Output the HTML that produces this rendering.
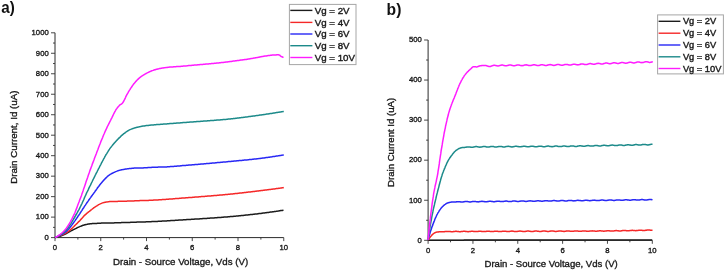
<!DOCTYPE html>
<html><head><meta charset="utf-8"><title>Id-Vds curves</title>
<style>html,body{margin:0;padding:0;background:#fff}svg{display:block}</style></head>
<body>
<svg width="725" height="271" viewBox="0 0 725 271" font-family="'Liberation Sans', sans-serif" fill="#1a1a1a">
<rect width="725" height="271" fill="#fff"/>
<path d="M55,32.8 V237.6 H283.75" fill="none" stroke="#2a2a2a" stroke-width="1"/>
<path d="M55.00,237.6 v3.5" stroke="#333" stroke-width="0.9"/>
<text x="55.00" y="249.90" text-anchor="middle" font-size="7.7" stroke="#1a1a1a" stroke-width="0.35">0</text>
<path d="M77.88,237.6 v2" stroke="#333" stroke-width="0.9"/>
<path d="M100.75,237.6 v3.5" stroke="#333" stroke-width="0.9"/>
<text x="100.75" y="249.90" text-anchor="middle" font-size="7.7" stroke="#1a1a1a" stroke-width="0.35">2</text>
<path d="M123.62,237.6 v2" stroke="#333" stroke-width="0.9"/>
<path d="M146.50,237.6 v3.5" stroke="#333" stroke-width="0.9"/>
<text x="146.50" y="249.90" text-anchor="middle" font-size="7.7" stroke="#1a1a1a" stroke-width="0.35">4</text>
<path d="M169.38,237.6 v2" stroke="#333" stroke-width="0.9"/>
<path d="M192.25,237.6 v3.5" stroke="#333" stroke-width="0.9"/>
<text x="192.25" y="249.90" text-anchor="middle" font-size="7.7" stroke="#1a1a1a" stroke-width="0.35">6</text>
<path d="M215.12,237.6 v2" stroke="#333" stroke-width="0.9"/>
<path d="M238.00,237.6 v3.5" stroke="#333" stroke-width="0.9"/>
<text x="238.00" y="249.90" text-anchor="middle" font-size="7.7" stroke="#1a1a1a" stroke-width="0.35">8</text>
<path d="M260.88,237.6 v2" stroke="#333" stroke-width="0.9"/>
<path d="M283.75,237.6 v3.5" stroke="#333" stroke-width="0.9"/>
<text x="283.75" y="249.90" text-anchor="middle" font-size="7.7" stroke="#1a1a1a" stroke-width="0.35">10</text>
<path d="M55,237.60 h-4" stroke="#333" stroke-width="0.9"/>
<text x="48.7" y="239.90" text-anchor="end" font-size="7.7" stroke="#1a1a1a" stroke-width="0.35">0</text>
<path d="M55,227.36 h-2" stroke="#333" stroke-width="0.9"/>
<path d="M55,217.12 h-4" stroke="#333" stroke-width="0.9"/>
<text x="48.7" y="219.42" text-anchor="end" font-size="7.7" stroke="#1a1a1a" stroke-width="0.35">100</text>
<path d="M55,206.88 h-2" stroke="#333" stroke-width="0.9"/>
<path d="M55,196.64 h-4" stroke="#333" stroke-width="0.9"/>
<text x="48.7" y="198.94" text-anchor="end" font-size="7.7" stroke="#1a1a1a" stroke-width="0.35">200</text>
<path d="M55,186.40 h-2" stroke="#333" stroke-width="0.9"/>
<path d="M55,176.16 h-4" stroke="#333" stroke-width="0.9"/>
<text x="48.7" y="178.46" text-anchor="end" font-size="7.7" stroke="#1a1a1a" stroke-width="0.35">300</text>
<path d="M55,165.92 h-2" stroke="#333" stroke-width="0.9"/>
<path d="M55,155.68 h-4" stroke="#333" stroke-width="0.9"/>
<text x="48.7" y="157.98" text-anchor="end" font-size="7.7" stroke="#1a1a1a" stroke-width="0.35">400</text>
<path d="M55,145.44 h-2" stroke="#333" stroke-width="0.9"/>
<path d="M55,135.20 h-4" stroke="#333" stroke-width="0.9"/>
<text x="48.7" y="137.50" text-anchor="end" font-size="7.7" stroke="#1a1a1a" stroke-width="0.35">500</text>
<path d="M55,124.96 h-2" stroke="#333" stroke-width="0.9"/>
<path d="M55,114.72 h-4" stroke="#333" stroke-width="0.9"/>
<text x="48.7" y="117.02" text-anchor="end" font-size="7.7" stroke="#1a1a1a" stroke-width="0.35">600</text>
<path d="M55,104.48 h-2" stroke="#333" stroke-width="0.9"/>
<path d="M55,94.24 h-4" stroke="#333" stroke-width="0.9"/>
<text x="48.7" y="96.54" text-anchor="end" font-size="7.7" stroke="#1a1a1a" stroke-width="0.35">700</text>
<path d="M55,84.00 h-2" stroke="#333" stroke-width="0.9"/>
<path d="M55,73.76 h-4" stroke="#333" stroke-width="0.9"/>
<text x="48.7" y="76.06" text-anchor="end" font-size="7.7" stroke="#1a1a1a" stroke-width="0.35">800</text>
<path d="M55,63.52 h-2" stroke="#333" stroke-width="0.9"/>
<path d="M55,53.28 h-4" stroke="#333" stroke-width="0.9"/>
<text x="48.7" y="55.58" text-anchor="end" font-size="7.7" stroke="#1a1a1a" stroke-width="0.35">900</text>
<path d="M55,43.04 h-2" stroke="#333" stroke-width="0.9"/>
<path d="M55,32.80 h-4" stroke="#333" stroke-width="0.9"/>
<text x="48.7" y="35.10" text-anchor="end" font-size="7.7" stroke="#1a1a1a" stroke-width="0.35">1000</text>
<path d="M428.1,40.0 V240.3 H652.3" fill="none" stroke="#2a2a2a" stroke-width="1"/>
<path d="M428.10,240.3 v3.5" stroke="#333" stroke-width="0.9"/>
<text x="428.10" y="252.60" text-anchor="middle" font-size="7.7" stroke="#1a1a1a" stroke-width="0.35">0</text>
<path d="M450.52,240.3 v2" stroke="#333" stroke-width="0.9"/>
<path d="M472.94,240.3 v3.5" stroke="#333" stroke-width="0.9"/>
<text x="472.94" y="252.60" text-anchor="middle" font-size="7.7" stroke="#1a1a1a" stroke-width="0.35">2</text>
<path d="M495.36,240.3 v2" stroke="#333" stroke-width="0.9"/>
<path d="M517.78,240.3 v3.5" stroke="#333" stroke-width="0.9"/>
<text x="517.78" y="252.60" text-anchor="middle" font-size="7.7" stroke="#1a1a1a" stroke-width="0.35">4</text>
<path d="M540.20,240.3 v2" stroke="#333" stroke-width="0.9"/>
<path d="M562.62,240.3 v3.5" stroke="#333" stroke-width="0.9"/>
<text x="562.62" y="252.60" text-anchor="middle" font-size="7.7" stroke="#1a1a1a" stroke-width="0.35">6</text>
<path d="M585.04,240.3 v2" stroke="#333" stroke-width="0.9"/>
<path d="M607.46,240.3 v3.5" stroke="#333" stroke-width="0.9"/>
<text x="607.46" y="252.60" text-anchor="middle" font-size="7.7" stroke="#1a1a1a" stroke-width="0.35">8</text>
<path d="M629.88,240.3 v2" stroke="#333" stroke-width="0.9"/>
<path d="M652.30,240.3 v3.5" stroke="#333" stroke-width="0.9"/>
<text x="652.30" y="252.60" text-anchor="middle" font-size="7.7" stroke="#1a1a1a" stroke-width="0.35">10</text>
<path d="M428.1,240.30 h-4" stroke="#333" stroke-width="0.9"/>
<text x="421.8" y="242.60" text-anchor="end" font-size="7.7" stroke="#1a1a1a" stroke-width="0.35">0</text>
<path d="M428.1,220.27 h-2" stroke="#333" stroke-width="0.9"/>
<path d="M428.1,200.24 h-4" stroke="#333" stroke-width="0.9"/>
<text x="421.8" y="202.54" text-anchor="end" font-size="7.7" stroke="#1a1a1a" stroke-width="0.35">100</text>
<path d="M428.1,180.21 h-2" stroke="#333" stroke-width="0.9"/>
<path d="M428.1,160.18 h-4" stroke="#333" stroke-width="0.9"/>
<text x="421.8" y="162.48" text-anchor="end" font-size="7.7" stroke="#1a1a1a" stroke-width="0.35">200</text>
<path d="M428.1,140.15 h-2" stroke="#333" stroke-width="0.9"/>
<path d="M428.1,120.12 h-4" stroke="#333" stroke-width="0.9"/>
<text x="421.8" y="122.42" text-anchor="end" font-size="7.7" stroke="#1a1a1a" stroke-width="0.35">300</text>
<path d="M428.1,100.09 h-2" stroke="#333" stroke-width="0.9"/>
<path d="M428.1,80.06 h-4" stroke="#333" stroke-width="0.9"/>
<text x="421.8" y="82.36" text-anchor="end" font-size="7.7" stroke="#1a1a1a" stroke-width="0.35">400</text>
<path d="M428.1,60.03 h-2" stroke="#333" stroke-width="0.9"/>
<path d="M428.1,40.00 h-4" stroke="#333" stroke-width="0.9"/>
<text x="421.8" y="42.30" text-anchor="end" font-size="7.7" stroke="#1a1a1a" stroke-width="0.35">500</text>
<path d="M55.0,237.5 L55.6,237.4 L56.1,237.3 L56.7,237.1 L57.3,237.0 L57.9,236.8 L58.4,236.7 L59.0,236.5 L59.6,236.3 L60.2,236.2 L60.7,236.0 L61.3,235.8 L61.9,235.5 L62.4,235.3 L63.0,235.1 L63.6,234.8 L64.2,234.6 L64.7,234.3 L65.3,234.1 L65.9,233.8 L66.5,233.4 L67.0,233.1 L67.6,232.8 L68.2,232.4 L68.7,232.1 L69.3,231.8 L69.9,231.5 L70.5,231.2 L71.0,230.9 L71.6,230.6 L72.2,230.3 L72.8,230.0 L73.3,229.7 L73.9,229.4 L74.5,229.2 L75.0,228.9 L75.6,228.6 L76.2,228.3 L76.8,228.0 L77.3,227.7 L77.9,227.4 L78.5,227.2 L79.1,226.9 L79.6,226.7 L80.2,226.4 L80.8,226.2 L81.3,226.0 L81.9,225.8 L82.5,225.5 L83.1,225.3 L83.6,225.2 L84.2,225.0 L84.8,224.8 L85.4,224.7 L85.9,224.5 L86.5,224.4 L87.1,224.3 L87.6,224.2 L88.2,224.0 L88.8,223.9 L89.4,223.9 L89.9,223.8 L90.5,223.7 L91.1,223.7 L91.7,223.7 L92.2,223.6 L92.8,223.6 L93.4,223.6 L93.9,223.5 L94.5,223.5 L95.1,223.5 L95.7,223.4 L96.2,223.4 L96.8,223.4 L97.4,223.3 L98.0,223.3 L98.5,223.3 L99.1,223.2 L99.7,223.2 L100.2,223.2 L100.8,223.2 L101.4,223.1 L102.0,223.1 L102.5,223.1 L103.1,223.1 L103.7,223.1 L104.3,223.1 L104.8,223.1 L105.4,223.1 L106.0,223.0 L106.5,223.0 L107.1,223.0 L107.7,223.0 L108.3,223.0 L108.8,223.0 L109.4,223.0 L110.0,223.0 L110.6,223.0 L111.1,222.9 L111.7,222.9 L112.3,222.9 L112.8,222.9 L113.4,222.9 L114.0,222.9 L114.6,222.8 L115.1,222.8 L115.7,222.8 L116.3,222.8 L116.8,222.8 L117.4,222.8 L118.0,222.8 L118.6,222.7 L119.1,222.7 L119.7,222.7 L120.3,222.7 L120.9,222.7 L121.4,222.6 L122.0,222.6 L122.6,222.6 L123.1,222.6 L123.7,222.6 L124.3,222.6 L124.9,222.5 L125.4,222.5 L126.0,222.5 L126.6,222.5 L127.2,222.5 L127.7,222.4 L128.3,222.4 L128.9,222.4 L129.4,222.4 L130.0,222.4 L130.6,222.3 L131.2,222.3 L131.7,222.3 L132.3,222.3 L132.9,222.3 L133.5,222.3 L134.0,222.2 L134.6,222.2 L135.2,222.2 L135.7,222.2 L136.3,222.2 L136.9,222.1 L137.5,222.1 L138.0,222.1 L138.6,222.1 L139.2,222.1 L139.8,222.0 L140.3,222.0 L140.9,222.0 L141.5,222.0 L142.0,222.0 L142.6,221.9 L143.2,221.9 L143.8,221.9 L144.3,221.9 L144.9,221.9 L145.5,221.9 L146.1,221.8 L146.6,221.8 L147.2,221.8 L147.8,221.8 L148.3,221.8 L148.9,221.7 L149.5,221.7 L150.1,221.7 L150.6,221.7 L151.2,221.7 L151.8,221.6 L152.4,221.6 L152.9,221.6 L153.5,221.6 L154.1,221.5 L154.6,221.5 L155.2,221.5 L155.8,221.4 L156.4,221.4 L156.9,221.4 L157.5,221.4 L158.1,221.3 L158.7,221.3 L159.2,221.3 L159.8,221.2 L160.4,221.2 L160.9,221.2 L161.5,221.2 L162.1,221.1 L162.7,221.1 L163.2,221.1 L163.8,221.0 L164.4,221.0 L165.0,221.0 L165.5,220.9 L166.1,220.9 L166.7,220.9 L167.2,220.8 L167.8,220.8 L168.4,220.8 L169.0,220.7 L169.5,220.7 L170.1,220.7 L170.7,220.6 L171.3,220.6 L171.8,220.6 L172.4,220.5 L173.0,220.5 L173.5,220.5 L174.1,220.4 L174.7,220.4 L175.3,220.3 L175.8,220.3 L176.4,220.3 L177.0,220.2 L177.6,220.2 L178.1,220.2 L178.7,220.1 L179.3,220.1 L179.8,220.1 L180.4,220.0 L181.0,220.0 L181.6,219.9 L182.1,219.9 L182.7,219.9 L183.3,219.8 L183.9,219.8 L184.4,219.8 L185.0,219.7 L185.6,219.7 L186.1,219.7 L186.7,219.6 L187.3,219.6 L187.9,219.6 L188.4,219.5 L189.0,219.5 L189.6,219.5 L190.2,219.4 L190.7,219.4 L191.3,219.3 L191.9,219.3 L192.4,219.3 L193.0,219.2 L193.6,219.2 L194.2,219.2 L194.7,219.1 L195.3,219.1 L195.9,219.1 L196.5,219.0 L197.0,219.0 L197.6,219.0 L198.2,218.9 L198.7,218.9 L199.3,218.9 L199.9,218.8 L200.5,218.8 L201.0,218.7 L201.6,218.7 L202.2,218.7 L202.8,218.6 L203.3,218.6 L203.9,218.6 L204.5,218.5 L205.0,218.5 L205.6,218.5 L206.2,218.4 L206.8,218.4 L207.3,218.3 L207.9,218.3 L208.5,218.3 L209.1,218.2 L209.6,218.2 L210.2,218.1 L210.8,218.1 L211.3,218.1 L211.9,218.0 L212.5,218.0 L213.1,218.0 L213.6,217.9 L214.2,217.9 L214.8,217.8 L215.4,217.8 L215.9,217.7 L216.5,217.7 L217.1,217.7 L217.6,217.6 L218.2,217.6 L218.8,217.5 L219.4,217.5 L219.9,217.5 L220.5,217.4 L221.1,217.4 L221.7,217.3 L222.2,217.3 L222.8,217.2 L223.4,217.2 L223.9,217.1 L224.5,217.1 L225.1,217.1 L225.7,217.0 L226.2,217.0 L226.8,216.9 L227.4,216.9 L227.9,216.8 L228.5,216.8 L229.1,216.7 L229.7,216.7 L230.2,216.6 L230.8,216.6 L231.4,216.5 L232.0,216.5 L232.5,216.4 L233.1,216.4 L233.7,216.3 L234.2,216.3 L234.8,216.2 L235.4,216.2 L236.0,216.1 L236.5,216.0 L237.1,216.0 L237.7,215.9 L238.3,215.9 L238.8,215.8 L239.4,215.8 L240.0,215.7 L240.5,215.7 L241.1,215.6 L241.7,215.5 L242.3,215.5 L242.8,215.4 L243.4,215.4 L244.0,215.3 L244.6,215.3 L245.1,215.2 L245.7,215.1 L246.3,215.1 L246.8,215.0 L247.4,214.9 L248.0,214.9 L248.6,214.8 L249.1,214.8 L249.7,214.7 L250.3,214.6 L250.9,214.6 L251.4,214.5 L252.0,214.4 L252.6,214.4 L253.1,214.3 L253.7,214.3 L254.3,214.2 L254.9,214.1 L255.4,214.1 L256.0,214.0 L256.6,213.9 L257.2,213.9 L257.7,213.8 L258.3,213.7 L258.9,213.6 L259.4,213.6 L260.0,213.5 L260.6,213.4 L261.2,213.4 L261.7,213.3 L262.3,213.2 L262.9,213.1 L263.5,213.1 L264.0,213.0 L264.6,212.9 L265.2,212.8 L265.7,212.8 L266.3,212.7 L266.9,212.6 L267.5,212.5 L268.0,212.5 L268.6,212.4 L269.2,212.3 L269.8,212.2 L270.3,212.1 L270.9,212.1 L271.5,212.0 L272.0,211.9 L272.6,211.8 L273.2,211.7 L273.8,211.7 L274.3,211.6 L274.9,211.5 L275.5,211.4 L276.1,211.3 L276.6,211.2 L277.2,211.2 L277.8,211.1 L278.3,211.0 L278.9,210.9 L279.5,210.8 L280.1,210.7 L280.6,210.6 L281.2,210.6 L281.8,210.5 L282.4,210.4 L282.9,210.3 L283.5,210.2" fill="none" stroke="#1c1c1c" stroke-width="1.5" stroke-linejoin="round"/>
<path d="M55.0,237.5 L55.6,237.3 L56.1,237.1 L56.7,236.9 L57.3,236.7 L57.9,236.5 L58.4,236.3 L59.0,236.1 L59.6,235.9 L60.2,235.6 L60.7,235.4 L61.3,235.2 L61.9,234.9 L62.5,234.7 L63.0,234.5 L63.6,234.2 L64.2,233.9 L64.7,233.6 L65.3,233.3 L65.9,233.0 L66.5,232.6 L67.0,232.3 L67.6,231.9 L68.2,231.5 L68.8,231.1 L69.3,230.6 L69.9,230.2 L70.5,229.7 L71.1,229.2 L71.6,228.7 L72.2,228.1 L72.8,227.6 L73.3,227.0 L73.9,226.5 L74.5,225.9 L75.1,225.3 L75.6,224.8 L76.2,224.2 L76.8,223.6 L77.4,223.1 L77.9,222.5 L78.5,221.9 L79.1,221.3 L79.7,220.8 L80.2,220.2 L80.8,219.5 L81.4,218.9 L82.0,218.3 L82.5,217.6 L83.1,217.0 L83.7,216.3 L84.2,215.7 L84.8,215.2 L85.4,214.6 L86.0,214.1 L86.5,213.6 L87.1,213.1 L87.7,212.7 L88.3,212.2 L88.8,211.7 L89.4,211.3 L90.0,210.8 L90.6,210.4 L91.1,209.9 L91.7,209.5 L92.3,209.0 L92.8,208.6 L93.4,208.2 L94.0,207.7 L94.6,207.3 L95.1,206.9 L95.7,206.5 L96.3,206.2 L96.9,205.8 L97.4,205.4 L98.0,205.1 L98.6,204.7 L99.2,204.4 L99.7,204.1 L100.3,203.9 L100.9,203.6 L101.4,203.4 L102.0,203.1 L102.6,202.9 L103.2,202.7 L103.7,202.6 L104.3,202.4 L104.9,202.3 L105.5,202.2 L106.0,202.1 L106.6,202.0 L107.2,201.9 L107.8,201.8 L108.3,201.7 L108.9,201.7 L109.5,201.6 L110.0,201.6 L110.6,201.6 L111.2,201.5 L111.8,201.5 L112.3,201.5 L112.9,201.5 L113.5,201.5 L114.1,201.5 L114.6,201.4 L115.2,201.4 L115.8,201.4 L116.4,201.4 L116.9,201.4 L117.5,201.4 L118.1,201.3 L118.7,201.3 L119.2,201.3 L119.8,201.3 L120.4,201.3 L120.9,201.3 L121.5,201.3 L122.1,201.3 L122.7,201.3 L123.2,201.2 L123.8,201.2 L124.4,201.2 L125.0,201.2 L125.5,201.2 L126.1,201.2 L126.7,201.2 L127.3,201.1 L127.8,201.1 L128.4,201.1 L129.0,201.1 L129.5,201.1 L130.1,201.0 L130.7,201.0 L131.3,201.0 L131.8,201.0 L132.4,200.9 L133.0,200.9 L133.6,200.9 L134.1,200.9 L134.7,200.8 L135.3,200.8 L135.9,200.8 L136.4,200.8 L137.0,200.8 L137.6,200.7 L138.1,200.7 L138.7,200.7 L139.3,200.7 L139.9,200.6 L140.4,200.6 L141.0,200.6 L141.6,200.6 L142.2,200.6 L142.7,200.5 L143.3,200.5 L143.9,200.5 L144.5,200.5 L145.0,200.5 L145.6,200.5 L146.2,200.4 L146.7,200.4 L147.3,200.4 L147.9,200.4 L148.5,200.4 L149.0,200.3 L149.6,200.3 L150.2,200.3 L150.8,200.3 L151.3,200.2 L151.9,200.2 L152.5,200.2 L153.1,200.2 L153.6,200.1 L154.2,200.1 L154.8,200.1 L155.4,200.0 L155.9,200.0 L156.5,200.0 L157.1,199.9 L157.6,199.9 L158.2,199.9 L158.8,199.8 L159.4,199.8 L159.9,199.8 L160.5,199.7 L161.1,199.7 L161.7,199.7 L162.2,199.6 L162.8,199.6 L163.4,199.5 L164.0,199.5 L164.5,199.5 L165.1,199.4 L165.7,199.4 L166.2,199.3 L166.8,199.3 L167.4,199.3 L168.0,199.2 L168.5,199.2 L169.1,199.1 L169.7,199.1 L170.3,199.0 L170.8,199.0 L171.4,199.0 L172.0,198.9 L172.6,198.9 L173.1,198.8 L173.7,198.8 L174.3,198.7 L174.8,198.7 L175.4,198.6 L176.0,198.6 L176.6,198.6 L177.1,198.5 L177.7,198.5 L178.3,198.4 L178.9,198.4 L179.4,198.3 L180.0,198.3 L180.6,198.2 L181.2,198.2 L181.7,198.1 L182.3,198.1 L182.9,198.1 L183.4,198.0 L184.0,198.0 L184.6,197.9 L185.2,197.9 L185.7,197.8 L186.3,197.8 L186.9,197.7 L187.5,197.7 L188.0,197.7 L188.6,197.6 L189.2,197.6 L189.8,197.5 L190.3,197.5 L190.9,197.4 L191.5,197.4 L192.1,197.4 L192.6,197.3 L193.2,197.3 L193.8,197.2 L194.3,197.2 L194.9,197.1 L195.5,197.1 L196.1,197.0 L196.6,197.0 L197.2,197.0 L197.8,196.9 L198.4,196.9 L198.9,196.8 L199.5,196.8 L200.1,196.7 L200.7,196.7 L201.2,196.6 L201.8,196.6 L202.4,196.6 L202.9,196.5 L203.5,196.5 L204.1,196.4 L204.7,196.4 L205.2,196.3 L205.8,196.3 L206.4,196.2 L207.0,196.2 L207.5,196.1 L208.1,196.1 L208.7,196.1 L209.3,196.0 L209.8,196.0 L210.4,195.9 L211.0,195.9 L211.5,195.8 L212.1,195.8 L212.7,195.7 L213.3,195.7 L213.8,195.6 L214.4,195.6 L215.0,195.5 L215.6,195.5 L216.1,195.4 L216.7,195.4 L217.3,195.3 L217.9,195.3 L218.4,195.2 L219.0,195.2 L219.6,195.1 L220.1,195.1 L220.7,195.0 L221.3,195.0 L221.9,194.9 L222.4,194.9 L223.0,194.8 L223.6,194.8 L224.2,194.7 L224.7,194.7 L225.3,194.6 L225.9,194.6 L226.5,194.5 L227.0,194.4 L227.6,194.4 L228.2,194.3 L228.8,194.3 L229.3,194.2 L229.9,194.2 L230.5,194.1 L231.0,194.1 L231.6,194.0 L232.2,193.9 L232.8,193.9 L233.3,193.8 L233.9,193.8 L234.5,193.7 L235.1,193.6 L235.6,193.6 L236.2,193.5 L236.8,193.4 L237.4,193.4 L237.9,193.3 L238.5,193.3 L239.1,193.2 L239.6,193.1 L240.2,193.1 L240.8,193.0 L241.4,192.9 L241.9,192.9 L242.5,192.8 L243.1,192.7 L243.7,192.7 L244.2,192.6 L244.8,192.5 L245.4,192.5 L246.0,192.4 L246.5,192.3 L247.1,192.3 L247.7,192.2 L248.2,192.1 L248.8,192.1 L249.4,192.0 L250.0,191.9 L250.5,191.9 L251.1,191.8 L251.7,191.7 L252.3,191.7 L252.8,191.6 L253.4,191.5 L254.0,191.5 L254.6,191.4 L255.1,191.3 L255.7,191.3 L256.3,191.2 L256.8,191.1 L257.4,191.0 L258.0,191.0 L258.6,190.9 L259.1,190.8 L259.7,190.8 L260.3,190.7 L260.9,190.6 L261.4,190.6 L262.0,190.5 L262.6,190.4 L263.2,190.3 L263.7,190.3 L264.3,190.2 L264.9,190.1 L265.5,190.0 L266.0,190.0 L266.6,189.9 L267.2,189.8 L267.7,189.8 L268.3,189.7 L268.9,189.6 L269.5,189.5 L270.0,189.5 L270.6,189.4 L271.2,189.3 L271.8,189.2 L272.3,189.2 L272.9,189.1 L273.5,189.0 L274.1,188.9 L274.6,188.9 L275.2,188.8 L275.8,188.7 L276.3,188.6 L276.9,188.5 L277.5,188.5 L278.1,188.4 L278.6,188.3 L279.2,188.2 L279.8,188.2 L280.4,188.1 L280.9,188.0 L281.5,187.9 L282.1,187.8 L282.7,187.8 L283.2,187.7 L283.8,187.6" fill="none" stroke="#f52828" stroke-width="1.5" stroke-linejoin="round"/>
<path d="M55.0,237.5 L55.6,237.3 L56.1,237.1 L56.7,236.9 L57.3,236.6 L57.9,236.4 L58.4,236.1 L59.0,235.9 L59.6,235.6 L60.2,235.3 L60.7,235.0 L61.3,234.7 L61.9,234.4 L62.5,234.1 L63.0,233.7 L63.6,233.4 L64.2,233.0 L64.7,232.6 L65.3,232.2 L65.9,231.7 L66.5,231.2 L67.0,230.6 L67.6,230.0 L68.2,229.4 L68.8,228.8 L69.3,228.2 L69.9,227.5 L70.5,226.8 L71.1,226.1 L71.6,225.4 L72.2,224.6 L72.8,223.8 L73.3,223.0 L73.9,222.2 L74.5,221.4 L75.1,220.6 L75.6,219.8 L76.2,219.0 L76.8,218.1 L77.4,217.3 L77.9,216.4 L78.5,215.5 L79.1,214.7 L79.7,213.8 L80.2,213.0 L80.8,212.1 L81.4,211.2 L82.0,210.3 L82.5,209.4 L83.1,208.5 L83.7,207.7 L84.2,206.8 L84.8,205.9 L85.4,205.1 L86.0,204.2 L86.5,203.4 L87.1,202.5 L87.7,201.7 L88.3,200.8 L88.8,200.0 L89.4,199.2 L90.0,198.4 L90.6,197.6 L91.1,196.8 L91.7,196.0 L92.3,195.2 L92.8,194.4 L93.4,193.7 L94.0,192.9 L94.6,192.1 L95.1,191.3 L95.7,190.5 L96.3,189.7 L96.9,188.8 L97.4,188.0 L98.0,187.2 L98.6,186.5 L99.2,185.7 L99.7,185.0 L100.3,184.3 L100.9,183.6 L101.4,182.9 L102.0,182.2 L102.6,181.5 L103.2,180.9 L103.7,180.2 L104.3,179.6 L104.9,179.0 L105.5,178.4 L106.0,177.8 L106.6,177.3 L107.2,176.7 L107.8,176.2 L108.3,175.7 L108.9,175.3 L109.5,174.9 L110.0,174.5 L110.6,174.2 L111.2,173.8 L111.8,173.5 L112.3,173.3 L112.9,173.0 L113.5,172.7 L114.1,172.4 L114.6,172.2 L115.2,171.9 L115.8,171.6 L116.4,171.4 L116.9,171.2 L117.5,170.9 L118.1,170.7 L118.7,170.6 L119.2,170.4 L119.8,170.2 L120.4,170.1 L120.9,170.0 L121.5,169.8 L122.1,169.7 L122.7,169.6 L123.2,169.5 L123.8,169.4 L124.4,169.3 L125.0,169.2 L125.5,169.1 L126.1,169.0 L126.7,168.9 L127.3,168.8 L127.8,168.7 L128.4,168.7 L129.0,168.6 L129.5,168.5 L130.1,168.5 L130.7,168.4 L131.3,168.4 L131.8,168.3 L132.4,168.3 L133.0,168.2 L133.6,168.2 L134.1,168.1 L134.7,168.1 L135.3,168.1 L135.9,168.1 L136.4,168.0 L137.0,168.0 L137.6,168.0 L138.1,168.0 L138.7,168.0 L139.3,168.0 L139.9,167.9 L140.4,167.9 L141.0,167.9 L141.6,167.9 L142.2,167.9 L142.7,167.9 L143.3,167.9 L143.9,167.8 L144.5,167.8 L145.0,167.8 L145.6,167.8 L146.2,167.7 L146.7,167.7 L147.3,167.7 L147.9,167.6 L148.5,167.6 L149.0,167.6 L149.6,167.5 L150.2,167.5 L150.8,167.4 L151.3,167.4 L151.9,167.3 L152.5,167.3 L153.1,167.3 L153.6,167.2 L154.2,167.2 L154.8,167.2 L155.4,167.2 L155.9,167.2 L156.5,167.2 L157.1,167.2 L157.6,167.2 L158.2,167.1 L158.8,167.1 L159.4,167.1 L159.9,167.1 L160.5,167.1 L161.1,167.1 L161.7,167.1 L162.2,167.1 L162.8,167.0 L163.4,167.0 L164.0,167.0 L164.5,167.0 L165.1,167.0 L165.7,166.9 L166.2,166.9 L166.8,166.9 L167.4,166.8 L168.0,166.8 L168.5,166.8 L169.1,166.7 L169.7,166.7 L170.3,166.6 L170.8,166.6 L171.4,166.6 L172.0,166.5 L172.6,166.5 L173.1,166.4 L173.7,166.4 L174.3,166.3 L174.8,166.3 L175.4,166.2 L176.0,166.2 L176.6,166.2 L177.1,166.1 L177.7,166.1 L178.3,166.0 L178.9,166.0 L179.4,165.9 L180.0,165.9 L180.6,165.8 L181.2,165.8 L181.7,165.7 L182.3,165.6 L182.9,165.6 L183.4,165.5 L184.0,165.5 L184.6,165.4 L185.2,165.4 L185.7,165.4 L186.3,165.3 L186.9,165.3 L187.5,165.2 L188.0,165.2 L188.6,165.1 L189.2,165.1 L189.8,165.0 L190.3,165.0 L190.9,164.9 L191.5,164.9 L192.1,164.8 L192.6,164.8 L193.2,164.7 L193.8,164.7 L194.3,164.7 L194.9,164.6 L195.5,164.6 L196.1,164.5 L196.6,164.5 L197.2,164.4 L197.8,164.4 L198.4,164.3 L198.9,164.3 L199.5,164.2 L200.1,164.2 L200.7,164.1 L201.2,164.1 L201.8,164.0 L202.4,164.0 L202.9,163.9 L203.5,163.9 L204.1,163.8 L204.7,163.8 L205.2,163.7 L205.8,163.7 L206.4,163.6 L207.0,163.6 L207.5,163.5 L208.1,163.5 L208.7,163.4 L209.3,163.4 L209.8,163.3 L210.4,163.3 L211.0,163.2 L211.5,163.2 L212.1,163.1 L212.7,163.1 L213.3,163.0 L213.8,163.0 L214.4,162.9 L215.0,162.9 L215.6,162.8 L216.1,162.8 L216.7,162.7 L217.3,162.6 L217.9,162.6 L218.4,162.5 L219.0,162.5 L219.6,162.4 L220.1,162.4 L220.7,162.3 L221.3,162.3 L221.9,162.2 L222.4,162.2 L223.0,162.1 L223.6,162.1 L224.2,162.0 L224.7,162.0 L225.3,161.9 L225.9,161.9 L226.5,161.8 L227.0,161.7 L227.6,161.7 L228.2,161.6 L228.8,161.6 L229.3,161.5 L229.9,161.5 L230.5,161.4 L231.0,161.4 L231.6,161.3 L232.2,161.3 L232.8,161.2 L233.3,161.2 L233.9,161.1 L234.5,161.1 L235.1,161.0 L235.6,160.9 L236.2,160.9 L236.8,160.8 L237.4,160.8 L237.9,160.7 L238.5,160.7 L239.1,160.6 L239.6,160.6 L240.2,160.5 L240.8,160.5 L241.4,160.4 L241.9,160.4 L242.5,160.3 L243.1,160.2 L243.7,160.2 L244.2,160.1 L244.8,160.1 L245.4,160.0 L246.0,160.0 L246.5,159.9 L247.1,159.9 L247.7,159.8 L248.2,159.7 L248.8,159.7 L249.4,159.6 L250.0,159.6 L250.5,159.5 L251.1,159.4 L251.7,159.4 L252.3,159.3 L252.8,159.3 L253.4,159.2 L254.0,159.1 L254.6,159.1 L255.1,159.0 L255.7,158.9 L256.3,158.9 L256.8,158.8 L257.4,158.7 L258.0,158.7 L258.6,158.6 L259.1,158.5 L259.7,158.5 L260.3,158.4 L260.9,158.3 L261.4,158.3 L262.0,158.2 L262.6,158.1 L263.2,158.0 L263.7,158.0 L264.3,157.9 L264.9,157.8 L265.5,157.7 L266.0,157.6 L266.6,157.6 L267.2,157.5 L267.7,157.4 L268.3,157.3 L268.9,157.2 L269.5,157.2 L270.0,157.1 L270.6,157.0 L271.2,156.9 L271.8,156.8 L272.3,156.7 L272.9,156.6 L273.5,156.6 L274.1,156.5 L274.6,156.4 L275.2,156.3 L275.8,156.2 L276.3,156.1 L276.9,156.0 L277.5,155.9 L278.1,155.8 L278.6,155.7 L279.2,155.7 L279.8,155.6 L280.4,155.5 L280.9,155.4 L281.5,155.3 L282.1,155.2 L282.7,155.1 L283.2,155.0 L283.8,154.9" fill="none" stroke="#2828f5" stroke-width="1.5" stroke-linejoin="round"/>
<path d="M55.0,237.4 L55.6,237.2 L56.1,236.9 L56.7,236.7 L57.3,236.4 L57.9,236.1 L58.4,235.8 L59.0,235.5 L59.6,235.1 L60.2,234.8 L60.7,234.5 L61.3,234.1 L61.9,233.7 L62.5,233.3 L63.0,232.9 L63.6,232.4 L64.2,231.9 L64.7,231.4 L65.3,230.9 L65.9,230.3 L66.5,229.6 L67.0,228.9 L67.6,228.2 L68.2,227.4 L68.8,226.7 L69.3,225.8 L69.9,225.0 L70.5,224.2 L71.1,223.3 L71.6,222.4 L72.2,221.4 L72.8,220.5 L73.3,219.5 L73.9,218.5 L74.5,217.5 L75.1,216.5 L75.6,215.5 L76.2,214.5 L76.8,213.5 L77.4,212.4 L77.9,211.4 L78.5,210.3 L79.1,209.3 L79.7,208.2 L80.2,207.0 L80.8,205.9 L81.4,204.7 L82.0,203.5 L82.5,202.3 L83.1,201.0 L83.7,199.7 L84.2,198.4 L84.8,197.0 L85.4,195.7 L86.0,194.4 L86.5,193.2 L87.1,192.0 L87.7,190.8 L88.3,189.6 L88.8,188.4 L89.4,187.2 L90.0,186.0 L90.6,184.9 L91.1,183.7 L91.7,182.5 L92.3,181.3 L92.8,180.2 L93.4,179.0 L94.0,177.8 L94.6,176.7 L95.1,175.5 L95.7,174.4 L96.3,173.2 L96.9,172.1 L97.4,171.0 L98.0,169.9 L98.6,168.7 L99.2,167.6 L99.7,166.5 L100.3,165.4 L100.9,164.3 L101.4,163.2 L102.0,162.1 L102.6,161.0 L103.2,159.9 L103.7,158.8 L104.3,157.8 L104.9,156.7 L105.5,155.7 L106.0,154.7 L106.6,153.8 L107.2,152.8 L107.8,151.9 L108.3,151.0 L108.9,150.1 L109.5,149.2 L110.0,148.4 L110.6,147.6 L111.2,146.9 L111.8,146.1 L112.3,145.4 L112.9,144.7 L113.5,144.0 L114.1,143.4 L114.6,142.7 L115.2,142.1 L115.8,141.4 L116.4,140.8 L116.9,140.2 L117.5,139.6 L118.1,139.0 L118.7,138.4 L119.2,137.9 L119.8,137.3 L120.4,136.8 L120.9,136.2 L121.5,135.7 L122.1,135.2 L122.7,134.7 L123.2,134.2 L123.8,133.7 L124.4,133.3 L125.0,132.9 L125.5,132.4 L126.1,132.0 L126.7,131.6 L127.3,131.2 L127.8,130.8 L128.4,130.5 L129.0,130.2 L129.5,129.9 L130.1,129.6 L130.7,129.4 L131.3,129.1 L131.8,128.9 L132.4,128.7 L133.0,128.5 L133.6,128.3 L134.1,128.1 L134.7,128.0 L135.3,127.8 L135.9,127.6 L136.4,127.5 L137.0,127.3 L137.6,127.2 L138.1,127.1 L138.7,126.9 L139.3,126.8 L139.9,126.7 L140.4,126.6 L141.0,126.4 L141.6,126.3 L142.2,126.2 L142.7,126.1 L143.3,126.1 L143.9,126.0 L144.5,125.9 L145.0,125.8 L145.6,125.7 L146.2,125.6 L146.7,125.6 L147.3,125.5 L147.9,125.4 L148.5,125.4 L149.0,125.3 L149.6,125.2 L150.2,125.2 L150.8,125.1 L151.3,125.1 L151.9,125.0 L152.5,125.0 L153.1,124.9 L153.6,124.9 L154.2,124.8 L154.8,124.8 L155.4,124.7 L155.9,124.7 L156.5,124.6 L157.1,124.6 L157.6,124.6 L158.2,124.5 L158.8,124.5 L159.4,124.4 L159.9,124.4 L160.5,124.3 L161.1,124.3 L161.7,124.2 L162.2,124.2 L162.8,124.2 L163.4,124.1 L164.0,124.1 L164.5,124.0 L165.1,124.0 L165.7,123.9 L166.2,123.9 L166.8,123.9 L167.4,123.8 L168.0,123.8 L168.5,123.7 L169.1,123.7 L169.7,123.6 L170.3,123.6 L170.8,123.5 L171.4,123.5 L172.0,123.5 L172.6,123.4 L173.1,123.4 L173.7,123.3 L174.3,123.3 L174.8,123.2 L175.4,123.2 L176.0,123.2 L176.6,123.1 L177.1,123.1 L177.7,123.0 L178.3,123.0 L178.9,122.9 L179.4,122.9 L180.0,122.9 L180.6,122.8 L181.2,122.8 L181.7,122.7 L182.3,122.7 L182.9,122.6 L183.4,122.6 L184.0,122.6 L184.6,122.5 L185.2,122.5 L185.7,122.4 L186.3,122.4 L186.9,122.3 L187.5,122.3 L188.0,122.3 L188.6,122.2 L189.2,122.2 L189.8,122.1 L190.3,122.1 L190.9,122.0 L191.5,122.0 L192.1,122.0 L192.6,121.9 L193.2,121.9 L193.8,121.8 L194.3,121.8 L194.9,121.7 L195.5,121.7 L196.1,121.7 L196.6,121.6 L197.2,121.6 L197.8,121.5 L198.4,121.5 L198.9,121.5 L199.5,121.4 L200.1,121.4 L200.7,121.3 L201.2,121.3 L201.8,121.3 L202.4,121.2 L202.9,121.2 L203.5,121.1 L204.1,121.1 L204.7,121.0 L205.2,121.0 L205.8,121.0 L206.4,120.9 L207.0,120.9 L207.5,120.8 L208.1,120.8 L208.7,120.8 L209.3,120.7 L209.8,120.7 L210.4,120.6 L211.0,120.6 L211.5,120.5 L212.1,120.5 L212.7,120.5 L213.3,120.4 L213.8,120.4 L214.4,120.3 L215.0,120.3 L215.6,120.2 L216.1,120.2 L216.7,120.1 L217.3,120.1 L217.9,120.1 L218.4,120.0 L219.0,120.0 L219.6,119.9 L220.1,119.9 L220.7,119.8 L221.3,119.8 L221.9,119.7 L222.4,119.7 L223.0,119.6 L223.6,119.6 L224.2,119.5 L224.7,119.5 L225.3,119.4 L225.9,119.4 L226.5,119.3 L227.0,119.2 L227.6,119.2 L228.2,119.1 L228.8,119.1 L229.3,119.0 L229.9,119.0 L230.5,118.9 L231.0,118.8 L231.6,118.8 L232.2,118.7 L232.8,118.7 L233.3,118.6 L233.9,118.5 L234.5,118.5 L235.1,118.4 L235.6,118.3 L236.2,118.3 L236.8,118.2 L237.4,118.1 L237.9,118.1 L238.5,118.0 L239.1,117.9 L239.6,117.8 L240.2,117.8 L240.8,117.7 L241.4,117.6 L241.9,117.6 L242.5,117.5 L243.1,117.4 L243.7,117.3 L244.2,117.3 L244.8,117.2 L245.4,117.1 L246.0,117.0 L246.5,117.0 L247.1,116.9 L247.7,116.8 L248.2,116.7 L248.8,116.6 L249.4,116.6 L250.0,116.5 L250.5,116.4 L251.1,116.3 L251.7,116.3 L252.3,116.2 L252.8,116.1 L253.4,116.0 L254.0,115.9 L254.6,115.9 L255.1,115.8 L255.7,115.7 L256.3,115.6 L256.8,115.5 L257.4,115.5 L258.0,115.4 L258.6,115.3 L259.1,115.2 L259.7,115.1 L260.3,115.1 L260.9,115.0 L261.4,114.9 L262.0,114.8 L262.6,114.7 L263.2,114.7 L263.7,114.6 L264.3,114.5 L264.9,114.4 L265.5,114.3 L266.0,114.2 L266.6,114.1 L267.2,114.1 L267.7,114.0 L268.3,113.9 L268.9,113.8 L269.5,113.7 L270.0,113.6 L270.6,113.5 L271.2,113.4 L271.8,113.4 L272.3,113.3 L272.9,113.2 L273.5,113.1 L274.1,113.0 L274.6,112.9 L275.2,112.8 L275.8,112.7 L276.3,112.6 L276.9,112.5 L277.5,112.4 L278.1,112.3 L278.6,112.3 L279.2,112.2 L279.8,112.1 L280.4,112.0 L280.9,111.9 L281.5,111.8 L282.1,111.7 L282.7,111.6 L283.2,111.5 L283.8,111.4" fill="none" stroke="#1c8a8a" stroke-width="1.5" stroke-linejoin="round"/>
<path d="M55.0,237.4 L55.6,237.2 L56.1,236.9 L56.7,236.6 L57.3,236.3 L57.9,235.9 L58.4,235.6 L59.0,235.2 L59.6,234.8 L60.2,234.4 L60.7,234.0 L61.3,233.5 L61.9,233.0 L62.4,232.5 L63.0,232.0 L63.6,231.4 L64.2,230.8 L64.7,230.2 L65.3,229.5 L65.9,228.8 L66.5,228.0 L67.0,227.2 L67.6,226.3 L68.2,225.4 L68.8,224.5 L69.3,223.6 L69.9,222.6 L70.5,221.6 L71.0,220.6 L71.6,219.5 L72.2,218.4 L72.8,217.2 L73.3,216.0 L73.9,214.8 L74.5,213.6 L75.1,212.3 L75.6,210.9 L76.2,209.4 L76.8,207.9 L77.3,206.4 L77.9,204.8 L78.5,203.3 L79.1,201.8 L79.6,200.3 L80.2,198.8 L80.8,197.2 L81.4,195.7 L81.9,194.1 L82.5,192.5 L83.1,190.8 L83.6,189.1 L84.2,187.5 L84.8,185.8 L85.4,184.1 L85.9,182.3 L86.5,180.6 L87.1,178.9 L87.7,177.2 L88.2,175.6 L88.8,173.9 L89.4,172.3 L89.9,170.6 L90.5,169.1 L91.1,167.5 L91.7,165.9 L92.2,164.4 L92.8,162.9 L93.4,161.4 L94.0,159.8 L94.5,158.3 L95.1,156.8 L95.7,155.3 L96.3,153.8 L96.8,152.3 L97.4,150.8 L98.0,149.2 L98.5,147.7 L99.1,146.2 L99.7,144.7 L100.3,143.3 L100.8,141.8 L101.4,140.4 L102.0,139.0 L102.6,137.6 L103.1,136.2 L103.7,134.8 L104.3,133.5 L104.8,132.2 L105.4,130.9 L106.0,129.6 L106.6,128.4 L107.1,127.2 L107.7,126.0 L108.3,124.8 L108.9,123.7 L109.4,122.6 L110.0,121.4 L110.6,120.3 L111.1,119.2 L111.7,118.1 L112.3,116.9 L112.9,115.7 L113.4,114.5 L114.0,113.3 L114.6,112.2 L115.2,111.1 L115.7,110.1 L116.3,109.2 L116.9,108.4 L117.4,107.7 L118.0,107.0 L118.6,106.3 L119.2,105.7 L119.7,105.1 L120.3,104.7 L120.9,104.3 L121.5,104.0 L122.0,103.6 L122.6,102.9 L123.2,102.0 L123.8,101.0 L124.3,100.0 L124.9,98.8 L125.5,97.6 L126.0,96.3 L126.6,95.2 L127.2,94.1 L127.8,93.1 L128.3,92.1 L128.9,91.2 L129.5,90.2 L130.1,89.3 L130.6,88.4 L131.2,87.6 L131.8,86.8 L132.3,85.9 L132.9,85.1 L133.5,84.3 L134.1,83.6 L134.6,82.9 L135.2,82.2 L135.8,81.5 L136.4,80.9 L136.9,80.3 L137.5,79.7 L138.1,79.1 L138.6,78.6 L139.2,78.1 L139.8,77.6 L140.4,77.2 L140.9,76.7 L141.5,76.3 L142.1,75.9 L142.7,75.5 L143.2,75.2 L143.8,74.8 L144.4,74.5 L145.0,74.1 L145.5,73.8 L146.1,73.5 L146.7,73.2 L147.2,72.9 L147.8,72.6 L148.4,72.3 L149.0,72.0 L149.5,71.7 L150.1,71.5 L150.7,71.2 L151.3,71.0 L151.8,70.8 L152.4,70.6 L153.0,70.4 L153.5,70.2 L154.1,70.0 L154.7,69.8 L155.3,69.7 L155.8,69.5 L156.4,69.3 L157.0,69.2 L157.6,69.0 L158.1,68.9 L158.7,68.8 L159.3,68.6 L159.8,68.5 L160.4,68.4 L161.0,68.3 L161.6,68.2 L162.1,68.1 L162.7,68.0 L163.3,67.9 L163.9,67.8 L164.4,67.8 L165.0,67.7 L165.6,67.6 L166.1,67.5 L166.7,67.5 L167.3,67.4 L167.9,67.3 L168.4,67.3 L169.0,67.2 L169.6,67.1 L170.2,67.1 L170.7,67.0 L171.3,67.0 L171.9,66.9 L172.5,66.9 L173.0,66.9 L173.6,66.8 L174.2,66.8 L174.7,66.7 L175.3,66.7 L175.9,66.7 L176.5,66.6 L177.0,66.6 L177.6,66.6 L178.2,66.5 L178.8,66.5 L179.3,66.5 L179.9,66.4 L180.5,66.4 L181.0,66.3 L181.6,66.3 L182.2,66.2 L182.8,66.2 L183.3,66.1 L183.9,66.1 L184.5,66.0 L185.1,66.0 L185.6,65.9 L186.2,65.9 L186.8,65.8 L187.3,65.7 L187.9,65.7 L188.5,65.6 L189.1,65.6 L189.6,65.5 L190.2,65.5 L190.8,65.4 L191.4,65.4 L191.9,65.3 L192.5,65.3 L193.1,65.2 L193.6,65.2 L194.2,65.1 L194.8,65.1 L195.4,65.0 L195.9,65.0 L196.5,64.9 L197.1,64.9 L197.7,64.8 L198.2,64.8 L198.8,64.7 L199.4,64.7 L200.0,64.6 L200.5,64.6 L201.1,64.5 L201.7,64.5 L202.2,64.4 L202.8,64.4 L203.4,64.3 L204.0,64.3 L204.5,64.2 L205.1,64.2 L205.7,64.1 L206.3,64.1 L206.8,64.0 L207.4,64.0 L208.0,63.9 L208.5,63.9 L209.1,63.8 L209.7,63.8 L210.3,63.7 L210.8,63.7 L211.4,63.6 L212.0,63.6 L212.6,63.5 L213.1,63.4 L213.7,63.4 L214.3,63.3 L214.8,63.3 L215.4,63.2 L216.0,63.2 L216.6,63.1 L217.1,63.1 L217.7,63.0 L218.3,62.9 L218.9,62.9 L219.4,62.8 L220.0,62.8 L220.6,62.7 L221.2,62.6 L221.7,62.6 L222.3,62.5 L222.9,62.4 L223.4,62.4 L224.0,62.3 L224.6,62.2 L225.2,62.2 L225.7,62.1 L226.3,62.0 L226.9,61.9 L227.5,61.9 L228.0,61.8 L228.6,61.7 L229.2,61.7 L229.7,61.6 L230.3,61.5 L230.9,61.4 L231.5,61.4 L232.0,61.3 L232.6,61.2 L233.2,61.1 L233.8,61.1 L234.3,61.0 L234.9,60.9 L235.5,60.8 L236.0,60.8 L236.6,60.7 L237.2,60.6 L237.8,60.5 L238.3,60.4 L238.9,60.4 L239.5,60.3 L240.1,60.2 L240.6,60.1 L241.2,60.1 L241.8,60.0 L242.3,59.9 L242.9,59.8 L243.5,59.8 L244.1,59.7 L244.6,59.6 L245.2,59.5 L245.8,59.4 L246.4,59.4 L246.9,59.3 L247.5,59.2 L248.1,59.1 L248.7,59.0 L249.2,58.9 L249.8,58.8 L250.4,58.7 L250.9,58.6 L251.5,58.5 L252.1,58.4 L252.7,58.3 L253.2,58.2 L253.8,58.1 L254.4,58.0 L255.0,57.9 L255.5,57.8 L256.1,57.7 L256.7,57.6 L257.2,57.5 L257.8,57.4 L258.4,57.3 L259.0,57.2 L259.5,57.0 L260.1,56.9 L260.7,56.8 L261.3,56.7 L261.8,56.6 L262.4,56.5 L263.0,56.4 L263.5,56.3 L264.1,56.2 L264.7,56.1 L265.3,56.0 L265.8,55.9 L266.4,55.9 L267.0,55.8 L267.6,55.7 L268.1,55.6 L268.7,55.5 L269.3,55.5 L269.8,55.4 L270.4,55.3 L271.0,55.2 L271.6,55.2 L272.1,55.1 L272.7,55.1 L273.3,55.0 L273.9,55.0 L274.4,54.9 L275.0,54.9 L275.6,54.9 L276.2,54.9 L276.7,54.8 L277.3,54.8 L277.9,54.8 L278.4,54.8 L279.0,54.9 L279.6,55.2 L280.2,55.7 L280.7,56.2 L281.3,56.6 L281.9,56.8 L282.5,57.0 L283.0,57.2 L283.6,57.4" fill="none" stroke="#ff1cff" stroke-width="1.5" stroke-linejoin="round"/>
<path d="M428.0,240.2 L428.4,240.2 L428.7,240.2 L429.1,240.2 L429.5,240.2 L429.9,240.2 L430.2,240.2 L430.6,240.2 L431.0,240.2 L431.4,240.2 L431.7,240.2 L432.1,240.2 L432.5,240.2 L432.9,240.2 L433.2,240.2 L433.6,240.2 L434.0,240.2 L434.4,240.2 L434.7,240.2 L435.1,240.2 L435.5,240.2 L435.9,240.2 L436.2,240.2 L436.6,240.2 L437.0,240.2 L437.4,240.2 L437.7,240.2 L438.1,240.2 L438.5,240.2 L438.9,240.2 L439.2,240.2 L439.6,240.2 L440.0,240.2 L440.4,240.2 L440.7,240.2 L441.1,240.2 L441.5,240.2 L441.8,240.2 L442.2,240.2 L442.6,240.2 L443.0,240.2 L443.3,240.2 L443.7,240.2 L444.1,240.2 L444.5,240.2 L444.8,240.2 L445.2,240.2 L445.6,240.2 L446.0,240.2 L446.3,240.2 L446.7,240.2 L447.1,240.2 L447.5,240.2 L447.8,240.2 L448.2,240.2 L448.6,240.2 L449.0,240.2 L449.3,240.2 L449.7,240.2 L450.1,240.2 L450.5,240.2 L450.8,240.2 L451.2,240.2 L451.6,240.2 L452.0,240.2 L452.3,240.2 L452.7,240.2 L453.1,240.2 L453.5,240.2 L453.8,240.2 L454.2,240.2 L454.6,240.2 L454.9,240.2 L455.3,240.2 L455.7,240.2 L456.1,240.2 L456.4,240.2 L456.8,240.2 L457.2,240.2 L457.6,240.2 L457.9,240.2 L458.3,240.2 L458.7,240.2 L459.1,240.2 L459.4,240.2 L459.8,240.2 L460.2,240.2 L460.6,240.2 L460.9,240.2 L461.3,240.2 L461.7,240.2 L462.1,240.2 L462.4,240.2 L462.8,240.2 L463.2,240.2 L463.6,240.2 L463.9,240.1 L464.3,240.1 L464.7,240.1 L465.1,240.1 L465.4,240.1 L465.8,240.1 L466.2,240.1 L466.6,240.1 L466.9,240.1 L467.3,240.1 L467.7,240.1 L468.0,240.1 L468.4,240.1 L468.8,240.1 L469.2,240.1 L469.5,240.1 L469.9,240.1 L470.3,240.1 L470.7,240.1 L471.0,240.1 L471.4,240.1 L471.8,240.1 L472.2,240.1 L472.5,240.1 L472.9,240.1 L473.3,240.1 L473.7,240.1 L474.0,240.1 L474.4,240.1 L474.8,240.1 L475.2,240.1 L475.5,240.1 L475.9,240.1 L476.3,240.1 L476.7,240.1 L477.0,240.1 L477.4,240.1 L477.8,240.1 L478.2,240.1 L478.5,240.1 L478.9,240.1 L479.3,240.1 L479.7,240.1 L480.0,240.1 L480.4,240.1 L480.8,240.1 L481.1,240.1 L481.5,240.1 L481.9,240.1 L482.3,240.1 L482.6,240.1 L483.0,240.1 L483.4,240.1 L483.8,240.1 L484.1,240.1 L484.5,240.1 L484.9,240.1 L485.3,240.1 L485.6,240.1 L486.0,240.1 L486.4,240.1 L486.8,240.1 L487.1,240.1 L487.5,240.1 L487.9,240.1 L488.3,240.1 L488.6,240.1 L489.0,240.1 L489.4,240.1 L489.8,240.1 L490.1,240.1 L490.5,240.1 L490.9,240.1 L491.3,240.1 L491.6,240.1 L492.0,240.1 L492.4,240.1 L492.8,240.1 L493.1,240.1 L493.5,240.1 L493.9,240.1 L494.2,240.1 L494.6,240.1 L495.0,240.1 L495.4,240.1 L495.7,240.1 L496.1,240.1 L496.5,240.1 L496.9,240.1 L497.2,240.1 L497.6,240.1 L498.0,240.1 L498.4,240.1 L498.7,240.1 L499.1,240.1 L499.5,240.1 L499.9,240.1 L500.2,240.1 L500.6,240.1 L501.0,240.1 L501.4,240.1 L501.7,240.1 L502.1,240.1 L502.5,240.1 L502.9,240.1 L503.2,240.1 L503.6,240.1 L504.0,240.1 L504.4,240.1 L504.7,240.1 L505.1,240.1 L505.5,240.1 L505.9,240.1 L506.2,240.1 L506.6,240.1 L507.0,240.1 L507.3,240.1 L507.7,240.1 L508.1,240.1 L508.5,240.1 L508.8,240.1 L509.2,240.1 L509.6,240.1 L510.0,240.1 L510.3,240.1 L510.7,240.1 L511.1,240.1 L511.5,240.1 L511.8,240.1 L512.2,240.1 L512.6,240.1 L513.0,240.1 L513.3,240.1 L513.7,240.1 L514.1,240.1 L514.5,240.1 L514.8,240.1 L515.2,240.1 L515.6,240.1 L516.0,240.1 L516.3,240.1 L516.7,240.1 L517.1,240.1 L517.5,240.1 L517.8,240.1 L518.2,240.1 L518.6,240.1 L519.0,240.1 L519.3,240.1 L519.7,240.1 L520.1,240.1 L520.4,240.1 L520.8,240.1 L521.2,240.1 L521.6,240.1 L521.9,240.1 L522.3,240.1 L522.7,240.1 L523.1,240.1 L523.4,240.1 L523.8,240.1 L524.2,240.1 L524.6,240.1 L524.9,240.1 L525.3,240.1 L525.7,240.1 L526.1,240.1 L526.4,240.1 L526.8,240.1 L527.2,240.1 L527.6,240.1 L527.9,240.1 L528.3,240.1 L528.7,240.1 L529.1,240.1 L529.4,240.1 L529.8,240.1 L530.2,240.1 L530.6,240.1 L530.9,240.1 L531.3,240.1 L531.7,240.1 L532.1,240.1 L532.4,240.1 L532.8,240.1 L533.2,240.1 L533.5,240.1 L533.9,240.1 L534.3,240.1 L534.7,240.1 L535.0,240.1 L535.4,240.1 L535.8,240.1 L536.2,240.1 L536.5,240.1 L536.9,240.1 L537.3,240.0 L537.7,240.0 L538.0,240.0 L538.4,240.0 L538.8,240.0 L539.2,240.0 L539.5,240.0 L539.9,240.0 L540.3,240.0 L540.7,240.0 L541.0,240.0 L541.4,240.0 L541.8,240.0 L542.2,240.0 L542.5,240.0 L542.9,240.0 L543.3,240.0 L543.7,240.0 L544.0,240.0 L544.4,240.0 L544.8,240.0 L545.2,240.0 L545.5,240.0 L545.9,240.0 L546.3,240.0 L546.7,240.0 L547.0,240.0 L547.4,240.0 L547.8,240.0 L548.1,240.0 L548.5,240.0 L548.9,240.0 L549.3,240.0 L549.6,240.0 L550.0,240.0 L550.4,240.0 L550.8,240.0 L551.1,240.0 L551.5,240.0 L551.9,240.0 L552.3,240.0 L552.6,240.0 L553.0,240.0 L553.4,240.0 L553.8,240.0 L554.1,240.0 L554.5,240.0 L554.9,240.0 L555.3,240.0 L555.6,240.0 L556.0,240.0 L556.4,240.0 L556.8,240.0 L557.1,240.0 L557.5,240.0 L557.9,240.0 L558.3,240.0 L558.6,240.0 L559.0,240.0 L559.4,240.0 L559.8,240.0 L560.1,240.0 L560.5,240.0 L560.9,240.0 L561.2,240.0 L561.6,240.0 L562.0,240.0 L562.4,240.0 L562.7,240.0 L563.1,240.0 L563.5,240.0 L563.9,240.0 L564.2,240.0 L564.6,240.0 L565.0,240.0 L565.4,240.0 L565.7,240.0 L566.1,240.0 L566.5,240.0 L566.9,240.0 L567.2,240.0 L567.6,240.0 L568.0,240.0 L568.4,240.0 L568.7,240.0 L569.1,240.0 L569.5,240.0 L569.9,240.0 L570.2,240.0 L570.6,240.0 L571.0,240.0 L571.4,240.0 L571.7,240.0 L572.1,240.0 L572.5,240.0 L572.9,240.0 L573.2,240.0 L573.6,240.0 L574.0,240.0 L574.3,240.0 L574.7,240.0 L575.1,240.0 L575.5,240.0 L575.8,240.0 L576.2,240.0 L576.6,240.0 L577.0,240.0 L577.3,240.0 L577.7,240.0 L578.1,240.0 L578.5,240.0 L578.8,240.0 L579.2,240.0 L579.6,240.0 L580.0,240.0 L580.3,240.0 L580.7,240.0 L581.1,240.0 L581.5,240.0 L581.8,240.0 L582.2,240.0 L582.6,240.0 L583.0,240.0 L583.3,240.0 L583.7,240.0 L584.1,240.0 L584.5,240.0 L584.8,240.0 L585.2,240.0 L585.6,240.0 L586.0,240.0 L586.3,240.0 L586.7,240.0 L587.1,240.0 L587.4,240.0 L587.8,240.0 L588.2,240.0 L588.6,240.0 L588.9,240.0 L589.3,240.0 L589.7,240.0 L590.1,240.0 L590.4,240.0 L590.8,240.0 L591.2,240.0 L591.6,240.0 L591.9,240.0 L592.3,240.0 L592.7,240.0 L593.1,240.0 L593.4,240.0 L593.8,240.0 L594.2,240.0 L594.6,240.0 L594.9,240.0 L595.3,240.0 L595.7,240.0 L596.1,240.0 L596.4,240.0 L596.8,240.0 L597.2,240.0 L597.6,240.0 L597.9,240.0 L598.3,240.0 L598.7,240.0 L599.1,240.0 L599.4,240.0 L599.8,240.0 L600.2,240.0 L600.5,240.0 L600.9,240.0 L601.3,240.0 L601.7,240.0 L602.0,240.0 L602.4,240.0 L602.8,240.0 L603.2,240.0 L603.5,240.0 L603.9,240.0 L604.3,240.0 L604.7,240.0 L605.0,240.0 L605.4,240.0 L605.8,240.0 L606.2,240.0 L606.5,240.0 L606.9,240.0 L607.3,240.0 L607.7,240.0 L608.0,240.0 L608.4,240.0 L608.8,240.0 L609.2,240.0 L609.5,240.0 L609.9,240.0 L610.3,240.0 L610.7,240.0 L611.0,240.0 L611.4,240.0 L611.8,240.0 L612.2,240.0 L612.5,240.0 L612.9,240.0 L613.3,239.9 L613.6,239.9 L614.0,239.9 L614.4,239.9 L614.8,239.9 L615.1,239.9 L615.5,239.9 L615.9,239.9 L616.3,239.9 L616.6,239.9 L617.0,239.9 L617.4,239.9 L617.8,239.9 L618.1,239.9 L618.5,239.9 L618.9,239.9 L619.3,239.9 L619.6,239.9 L620.0,239.9 L620.4,239.9 L620.8,239.9 L621.1,239.9 L621.5,239.9 L621.9,239.9 L622.3,239.9 L622.6,239.9 L623.0,239.9 L623.4,239.9 L623.8,239.9 L624.1,239.9 L624.5,239.9 L624.9,239.9 L625.3,239.9 L625.6,239.9 L626.0,239.9 L626.4,239.9 L626.7,239.9 L627.1,239.9 L627.5,239.9 L627.9,239.9 L628.2,239.9 L628.6,239.9 L629.0,239.9 L629.4,239.9 L629.7,239.9 L630.1,239.9 L630.5,239.9 L630.9,239.9 L631.2,239.9 L631.6,239.9 L632.0,239.9 L632.4,239.9 L632.7,239.9 L633.1,239.9 L633.5,239.9 L633.9,239.9 L634.2,239.9 L634.6,239.9 L635.0,239.9 L635.4,239.9 L635.7,239.9 L636.1,239.9 L636.5,239.9 L636.9,239.9 L637.2,239.9 L637.6,239.9 L638.0,239.9 L638.4,239.9 L638.7,239.9 L639.1,239.9 L639.5,239.9 L639.8,239.9 L640.2,239.9 L640.6,239.9 L641.0,239.9 L641.3,239.9 L641.7,239.9 L642.1,239.9 L642.5,239.9 L642.8,239.9 L643.2,239.9 L643.6,239.9 L644.0,239.9 L644.3,239.9 L644.7,239.9 L645.1,239.9 L645.5,239.9 L645.8,239.9 L646.2,239.9 L646.6,239.9 L647.0,239.9 L647.3,239.9 L647.7,239.9 L648.1,239.9 L648.5,239.9 L648.8,239.9 L649.2,239.9 L649.6,239.9 L650.0,239.9 L650.3,239.9 L650.7,239.9 L651.1,239.9 L651.5,239.9 L651.8,239.9 L652.2,239.9" fill="none" stroke="#1c1c1c" stroke-width="1.5" stroke-linejoin="round"/>
<path d="M428.0,240.2 L428.4,239.6 L428.7,239.1 L429.1,238.6 L429.5,238.1 L429.9,237.6 L430.2,237.1 L430.6,236.6 L431.0,236.1 L431.4,235.7 L431.7,235.3 L432.1,234.9 L432.5,234.5 L432.9,234.2 L433.2,233.8 L433.6,233.5 L434.0,233.3 L434.4,233.0 L434.7,232.8 L435.1,232.7 L435.5,232.5 L435.9,232.4 L436.2,232.3 L436.6,232.1 L437.0,232.1 L437.4,232.0 L437.7,231.9 L438.1,231.9 L438.5,231.9 L438.9,231.8 L439.2,231.8 L439.6,231.8 L440.0,231.8 L440.4,231.7 L440.7,231.7 L441.1,231.7 L441.5,231.7 L441.9,231.7 L442.2,231.7 L442.6,231.7 L443.0,231.7 L443.4,231.7 L443.7,231.7 L444.1,231.7 L444.5,231.7 L444.9,231.6 L445.2,231.6 L445.6,231.6 L446.0,231.6 L446.4,231.6 L446.7,231.5 L447.1,231.5 L447.5,231.5 L447.9,231.5 L448.2,231.4 L448.6,231.5 L449.0,231.5 L449.4,231.5 L449.7,231.5 L450.1,231.6 L450.5,231.6 L450.9,231.7 L451.2,231.7 L451.6,231.7 L452.0,231.7 L452.4,231.7 L452.7,231.7 L453.1,231.7 L453.5,231.6 L453.9,231.6 L454.2,231.5 L454.6,231.4 L455.0,231.4 L455.4,231.3 L455.7,231.3 L456.1,231.3 L456.5,231.3 L456.9,231.4 L457.2,231.4 L457.6,231.4 L458.0,231.5 L458.4,231.6 L458.7,231.6 L459.1,231.7 L459.5,231.7 L459.9,231.7 L460.2,231.7 L460.6,231.7 L461.0,231.6 L461.4,231.6 L461.7,231.5 L462.1,231.5 L462.5,231.4 L462.9,231.4 L463.2,231.3 L463.6,231.3 L464.0,231.3 L464.4,231.3 L464.7,231.3 L465.1,231.3 L465.5,231.4 L465.9,231.5 L466.2,231.5 L466.6,231.6 L467.0,231.6 L467.4,231.6 L467.7,231.7 L468.1,231.7 L468.5,231.7 L468.9,231.6 L469.2,231.6 L469.6,231.5 L470.0,231.5 L470.4,231.4 L470.7,231.4 L471.1,231.3 L471.5,231.3 L471.9,231.3 L472.2,231.3 L472.6,231.3 L473.0,231.3 L473.3,231.4 L473.7,231.4 L474.1,231.5 L474.5,231.5 L474.8,231.6 L475.2,231.6 L475.6,231.6 L476.0,231.6 L476.3,231.6 L476.7,231.6 L477.1,231.6 L477.5,231.5 L477.8,231.5 L478.2,231.4 L478.6,231.3 L479.0,231.3 L479.3,231.3 L479.7,231.2 L480.1,231.2 L480.5,231.2 L480.8,231.3 L481.2,231.3 L481.6,231.4 L482.0,231.4 L482.3,231.5 L482.7,231.5 L483.1,231.6 L483.5,231.6 L483.8,231.6 L484.2,231.6 L484.6,231.6 L485.0,231.6 L485.3,231.5 L485.7,231.5 L486.1,231.4 L486.5,231.3 L486.8,231.3 L487.2,231.3 L487.6,231.2 L488.0,231.2 L488.3,231.2 L488.7,231.2 L489.1,231.3 L489.5,231.3 L489.8,231.4 L490.2,231.4 L490.6,231.5 L491.0,231.5 L491.3,231.6 L491.7,231.6 L492.1,231.6 L492.5,231.6 L492.8,231.6 L493.2,231.5 L493.6,231.5 L494.0,231.4 L494.3,231.3 L494.7,231.3 L495.1,231.2 L495.5,231.2 L495.8,231.2 L496.2,231.2 L496.6,231.2 L497.0,231.2 L497.3,231.3 L497.7,231.3 L498.1,231.4 L498.5,231.4 L498.8,231.5 L499.2,231.5 L499.6,231.6 L500.0,231.6 L500.3,231.6 L500.7,231.5 L501.1,231.5 L501.5,231.4 L501.8,231.4 L502.2,231.3 L502.6,231.3 L503.0,231.2 L503.3,231.2 L503.7,231.2 L504.1,231.2 L504.5,231.2 L504.8,231.2 L505.2,231.2 L505.6,231.3 L506.0,231.3 L506.3,231.4 L506.7,231.4 L507.1,231.5 L507.5,231.5 L507.8,231.5 L508.2,231.5 L508.6,231.5 L509.0,231.5 L509.3,231.4 L509.7,231.4 L510.1,231.3 L510.5,231.3 L510.8,231.2 L511.2,231.2 L511.6,231.1 L512.0,231.1 L512.3,231.1 L512.7,231.2 L513.1,231.2 L513.5,231.2 L513.8,231.3 L514.2,231.4 L514.6,231.4 L515.0,231.5 L515.3,231.5 L515.7,231.5 L516.1,231.5 L516.5,231.5 L516.8,231.5 L517.2,231.4 L517.6,231.4 L517.9,231.3 L518.3,231.3 L518.7,231.2 L519.1,231.2 L519.4,231.1 L519.8,231.1 L520.2,231.1 L520.6,231.1 L520.9,231.2 L521.3,231.2 L521.7,231.3 L522.1,231.3 L522.4,231.4 L522.8,231.4 L523.2,231.5 L523.6,231.5 L523.9,231.5 L524.3,231.5 L524.7,231.5 L525.1,231.4 L525.4,231.4 L525.8,231.3 L526.2,231.3 L526.6,231.2 L526.9,231.1 L527.3,231.1 L527.7,231.1 L528.1,231.1 L528.4,231.1 L528.8,231.1 L529.2,231.2 L529.6,231.2 L529.9,231.3 L530.3,231.3 L530.7,231.4 L531.1,231.4 L531.4,231.5 L531.8,231.5 L532.2,231.5 L532.6,231.5 L532.9,231.4 L533.3,231.4 L533.7,231.3 L534.1,231.3 L534.4,231.2 L534.8,231.1 L535.2,231.1 L535.6,231.1 L535.9,231.1 L536.3,231.1 L536.7,231.1 L537.1,231.1 L537.4,231.2 L537.8,231.2 L538.2,231.3 L538.6,231.3 L538.9,231.4 L539.3,231.4 L539.7,231.4 L540.1,231.4 L540.4,231.4 L540.8,231.4 L541.2,231.4 L541.6,231.3 L541.9,231.3 L542.3,231.2 L542.7,231.1 L543.1,231.1 L543.4,231.1 L543.8,231.0 L544.2,231.0 L544.6,231.1 L544.9,231.1 L545.3,231.1 L545.7,231.2 L546.1,231.2 L546.4,231.3 L546.8,231.3 L547.2,231.4 L547.6,231.4 L547.9,231.4 L548.3,231.4 L548.7,231.4 L549.1,231.4 L549.4,231.3 L549.8,231.3 L550.2,231.2 L550.6,231.1 L550.9,231.1 L551.3,231.0 L551.7,231.0 L552.1,231.0 L552.4,231.0 L552.8,231.1 L553.2,231.1 L553.6,231.1 L553.9,231.2 L554.3,231.3 L554.7,231.3 L555.1,231.4 L555.4,231.4 L555.8,231.4 L556.2,231.4 L556.6,231.4 L556.9,231.3 L557.3,231.3 L557.7,231.2 L558.1,231.2 L558.4,231.1 L558.8,231.1 L559.2,231.0 L559.6,231.0 L559.9,231.0 L560.3,231.0 L560.7,231.0 L561.1,231.1 L561.4,231.1 L561.8,231.2 L562.2,231.2 L562.6,231.3 L562.9,231.3 L563.3,231.3 L563.7,231.4 L564.0,231.4 L564.4,231.4 L564.8,231.3 L565.2,231.3 L565.5,231.2 L565.9,231.2 L566.3,231.1 L566.7,231.1 L567.0,231.0 L567.4,231.0 L567.8,231.0 L568.2,231.0 L568.5,231.0 L568.9,231.0 L569.3,231.1 L569.7,231.1 L570.0,231.2 L570.4,231.2 L570.8,231.3 L571.2,231.3 L571.5,231.3 L571.9,231.3 L572.3,231.3 L572.7,231.3 L573.0,231.3 L573.4,231.2 L573.8,231.2 L574.2,231.1 L574.5,231.1 L574.9,231.0 L575.3,231.0 L575.7,230.9 L576.0,230.9 L576.4,230.9 L576.8,231.0 L577.2,231.0 L577.5,231.1 L577.9,231.1 L578.3,231.2 L578.7,231.2 L579.0,231.3 L579.4,231.3 L579.8,231.3 L580.2,231.3 L580.5,231.3 L580.9,231.3 L581.3,231.2 L581.7,231.2 L582.0,231.1 L582.4,231.0 L582.8,231.0 L583.2,230.9 L583.5,230.9 L583.9,230.9 L584.3,230.9 L584.7,230.9 L585.0,230.9 L585.4,231.0 L585.8,231.0 L586.2,231.1 L586.5,231.2 L586.9,231.2 L587.3,231.2 L587.7,231.3 L588.0,231.3 L588.4,231.3 L588.8,231.2 L589.2,231.2 L589.5,231.1 L589.9,231.1 L590.3,231.0 L590.7,231.0 L591.0,230.9 L591.4,230.9 L591.8,230.9 L592.2,230.8 L592.5,230.9 L592.9,230.9 L593.3,230.9 L593.7,231.0 L594.0,231.0 L594.4,231.1 L594.8,231.1 L595.2,231.2 L595.5,231.2 L595.9,231.2 L596.3,231.2 L596.7,231.2 L597.0,231.2 L597.4,231.1 L597.8,231.0 L598.2,231.0 L598.5,230.9 L598.9,230.9 L599.3,230.8 L599.7,230.8 L600.0,230.8 L600.4,230.8 L600.8,230.8 L601.2,230.9 L601.5,230.9 L601.9,231.0 L602.3,231.0 L602.7,231.1 L603.0,231.1 L603.4,231.2 L603.8,231.2 L604.2,231.2 L604.5,231.1 L604.9,231.1 L605.3,231.1 L605.7,231.0 L606.0,230.9 L606.4,230.9 L606.8,230.8 L607.2,230.8 L607.5,230.7 L607.9,230.7 L608.3,230.7 L608.6,230.7 L609.0,230.8 L609.4,230.8 L609.8,230.9 L610.1,230.9 L610.5,231.0 L610.9,231.0 L611.3,231.1 L611.6,231.1 L612.0,231.1 L612.4,231.1 L612.8,231.0 L613.1,231.0 L613.5,230.9 L613.9,230.9 L614.3,230.8 L614.6,230.7 L615.0,230.7 L615.4,230.7 L615.8,230.6 L616.1,230.6 L616.5,230.6 L616.9,230.7 L617.3,230.7 L617.6,230.7 L618.0,230.8 L618.4,230.8 L618.8,230.9 L619.1,230.9 L619.5,231.0 L619.9,231.0 L620.3,231.0 L620.6,230.9 L621.0,230.9 L621.4,230.8 L621.8,230.8 L622.1,230.7 L622.5,230.6 L622.9,230.6 L623.3,230.5 L623.6,230.5 L624.0,230.5 L624.4,230.5 L624.8,230.5 L625.1,230.5 L625.5,230.6 L625.9,230.6 L626.3,230.7 L626.6,230.7 L627.0,230.8 L627.4,230.8 L627.8,230.8 L628.1,230.8 L628.5,230.8 L628.9,230.8 L629.3,230.7 L629.6,230.6 L630.0,230.6 L630.4,230.5 L630.8,230.4 L631.1,230.4 L631.5,230.4 L631.9,230.3 L632.3,230.3 L632.6,230.3 L633.0,230.4 L633.4,230.4 L633.8,230.5 L634.1,230.5 L634.5,230.6 L634.9,230.6 L635.3,230.6 L635.6,230.7 L636.0,230.7 L636.4,230.6 L636.8,230.6 L637.1,230.6 L637.5,230.5 L637.9,230.4 L638.3,230.4 L638.6,230.3 L639.0,230.2 L639.4,230.2 L639.8,230.2 L640.1,230.2 L640.5,230.2 L640.9,230.2 L641.3,230.2 L641.6,230.3 L642.0,230.3 L642.4,230.4 L642.8,230.4 L643.1,230.5 L643.5,230.5 L643.9,230.5 L644.3,230.5 L644.6,230.4 L645.0,230.4 L645.4,230.3 L645.8,230.3 L646.1,230.2 L646.5,230.2 L646.9,230.1 L647.3,230.0 L647.6,230.0 L648.0,230.0 L648.4,230.0 L648.8,230.0 L649.1,230.0 L649.5,230.1 L649.9,230.1 L650.3,230.2 L650.6,230.2 L651.0,230.3 L651.4,230.3 L651.8,230.3 L652.1,230.3 L652.5,230.3" fill="none" stroke="#f52828" stroke-width="1.5" stroke-linejoin="round"/>
<path d="M428.0,240.0 L428.4,238.7 L428.7,237.3 L429.1,236.0 L429.5,234.8 L429.9,233.5 L430.2,232.3 L430.6,231.1 L431.0,229.9 L431.4,228.8 L431.7,227.7 L432.1,226.6 L432.5,225.6 L432.9,224.6 L433.2,223.6 L433.6,222.6 L434.0,221.6 L434.4,220.7 L434.7,219.7 L435.1,218.8 L435.5,217.9 L435.9,217.1 L436.2,216.3 L436.6,215.5 L437.0,214.7 L437.4,214.0 L437.7,213.3 L438.1,212.7 L438.5,212.1 L438.9,211.4 L439.2,210.8 L439.6,210.2 L440.0,209.7 L440.4,209.1 L440.7,208.6 L441.1,208.1 L441.5,207.7 L441.9,207.3 L442.2,206.9 L442.6,206.5 L443.0,206.1 L443.4,205.8 L443.7,205.5 L444.1,205.1 L444.5,204.8 L444.9,204.5 L445.2,204.3 L445.6,204.0 L446.0,203.8 L446.4,203.5 L446.7,203.3 L447.1,203.2 L447.5,203.0 L447.9,202.9 L448.2,202.8 L448.6,202.7 L449.0,202.6 L449.4,202.5 L449.7,202.4 L450.1,202.3 L450.5,202.3 L450.9,202.2 L451.2,202.1 L451.6,202.1 L452.0,202.0 L452.4,202.0 L452.7,202.0 L453.1,202.0 L453.5,202.0 L453.9,202.0 L454.2,202.0 L454.6,202.0 L455.0,202.0 L455.4,201.9 L455.7,201.9 L456.1,201.9 L456.5,201.8 L456.9,201.8 L457.2,201.7 L457.6,201.7 L458.0,201.7 L458.4,201.7 L458.7,201.7 L459.1,201.7 L459.5,201.7 L459.9,201.8 L460.2,201.8 L460.6,201.9 L461.0,201.9 L461.4,202.0 L461.7,202.0 L462.1,202.0 L462.5,202.0 L462.9,202.0 L463.2,201.9 L463.6,201.8 L464.0,201.7 L464.4,201.7 L464.7,201.6 L465.1,201.5 L465.5,201.5 L465.9,201.5 L466.2,201.5 L466.6,201.5 L467.0,201.5 L467.4,201.6 L467.7,201.6 L468.1,201.7 L468.5,201.8 L468.9,201.8 L469.2,201.9 L469.6,201.9 L470.0,201.9 L470.4,201.9 L470.7,201.9 L471.1,201.8 L471.5,201.8 L471.9,201.7 L472.2,201.6 L472.6,201.5 L473.0,201.5 L473.3,201.4 L473.7,201.4 L474.1,201.4 L474.5,201.4 L474.8,201.4 L475.2,201.5 L475.6,201.6 L476.0,201.6 L476.3,201.7 L476.7,201.8 L477.1,201.8 L477.5,201.8 L477.8,201.9 L478.2,201.9 L478.6,201.8 L479.0,201.8 L479.3,201.7 L479.7,201.6 L480.1,201.6 L480.5,201.5 L480.8,201.4 L481.2,201.4 L481.6,201.3 L482.0,201.3 L482.3,201.3 L482.7,201.4 L483.1,201.4 L483.5,201.5 L483.8,201.5 L484.2,201.6 L484.6,201.7 L485.0,201.7 L485.3,201.8 L485.7,201.8 L486.1,201.8 L486.5,201.8 L486.8,201.7 L487.2,201.7 L487.6,201.6 L488.0,201.5 L488.3,201.5 L488.7,201.4 L489.1,201.3 L489.5,201.3 L489.8,201.3 L490.2,201.3 L490.6,201.3 L491.0,201.3 L491.3,201.4 L491.7,201.4 L492.1,201.5 L492.5,201.6 L492.8,201.6 L493.2,201.7 L493.6,201.7 L494.0,201.7 L494.3,201.7 L494.7,201.7 L495.1,201.6 L495.5,201.6 L495.8,201.5 L496.2,201.4 L496.6,201.3 L497.0,201.3 L497.3,201.2 L497.7,201.2 L498.1,201.2 L498.5,201.2 L498.8,201.2 L499.2,201.3 L499.6,201.3 L500.0,201.4 L500.3,201.5 L500.7,201.5 L501.1,201.6 L501.5,201.6 L501.8,201.6 L502.2,201.6 L502.6,201.6 L503.0,201.6 L503.3,201.5 L503.7,201.4 L504.1,201.3 L504.5,201.3 L504.8,201.2 L505.2,201.2 L505.6,201.1 L506.0,201.1 L506.3,201.1 L506.7,201.1 L507.1,201.2 L507.5,201.2 L507.8,201.3 L508.2,201.4 L508.6,201.4 L509.0,201.5 L509.3,201.5 L509.7,201.6 L510.1,201.6 L510.5,201.5 L510.8,201.5 L511.2,201.4 L511.6,201.4 L512.0,201.3 L512.3,201.2 L512.7,201.1 L513.1,201.1 L513.5,201.0 L513.8,201.0 L514.2,201.0 L514.6,201.0 L515.0,201.1 L515.3,201.1 L515.7,201.2 L516.1,201.3 L516.5,201.3 L516.8,201.4 L517.2,201.4 L517.6,201.5 L517.9,201.5 L518.3,201.5 L518.7,201.4 L519.1,201.4 L519.4,201.3 L519.8,201.2 L520.2,201.2 L520.6,201.1 L520.9,201.0 L521.3,201.0 L521.7,200.9 L522.1,200.9 L522.4,200.9 L522.8,201.0 L523.2,201.0 L523.6,201.1 L523.9,201.1 L524.3,201.2 L524.7,201.3 L525.1,201.3 L525.4,201.4 L525.8,201.4 L526.2,201.4 L526.6,201.4 L526.9,201.3 L527.3,201.3 L527.7,201.2 L528.1,201.1 L528.4,201.0 L528.8,201.0 L529.2,200.9 L529.6,200.9 L529.9,200.8 L530.3,200.8 L530.7,200.9 L531.1,200.9 L531.4,201.0 L531.8,201.0 L532.2,201.1 L532.6,201.2 L532.9,201.2 L533.3,201.3 L533.7,201.3 L534.1,201.3 L534.4,201.3 L534.8,201.2 L535.2,201.2 L535.6,201.1 L535.9,201.0 L536.3,201.0 L536.7,200.9 L537.1,200.8 L537.4,200.8 L537.8,200.8 L538.2,200.8 L538.6,200.8 L538.9,200.8 L539.3,200.9 L539.7,200.9 L540.1,201.0 L540.4,201.1 L540.8,201.1 L541.2,201.2 L541.6,201.2 L541.9,201.2 L542.3,201.2 L542.7,201.2 L543.1,201.1 L543.4,201.1 L543.8,201.0 L544.2,200.9 L544.6,200.8 L544.9,200.8 L545.3,200.7 L545.7,200.7 L546.1,200.7 L546.4,200.7 L546.8,200.7 L547.2,200.8 L547.6,200.8 L547.9,200.9 L548.3,201.0 L548.7,201.0 L549.1,201.1 L549.4,201.1 L549.8,201.1 L550.2,201.1 L550.6,201.1 L550.9,201.1 L551.3,201.0 L551.7,200.9 L552.1,200.8 L552.4,200.8 L552.8,200.7 L553.2,200.6 L553.6,200.6 L553.9,200.6 L554.3,200.6 L554.7,200.6 L555.1,200.7 L555.4,200.7 L555.8,200.8 L556.2,200.8 L556.6,200.9 L556.9,201.0 L557.3,201.0 L557.7,201.0 L558.1,201.0 L558.4,201.0 L558.8,201.0 L559.2,200.9 L559.6,200.9 L559.9,200.8 L560.3,200.7 L560.7,200.6 L561.1,200.6 L561.4,200.5 L561.8,200.5 L562.2,200.5 L562.6,200.5 L562.9,200.6 L563.3,200.6 L563.7,200.7 L564.0,200.7 L564.4,200.8 L564.8,200.9 L565.2,200.9 L565.5,200.9 L565.9,201.0 L566.3,200.9 L566.7,200.9 L567.0,200.9 L567.4,200.8 L567.8,200.7 L568.2,200.6 L568.5,200.6 L568.9,200.5 L569.3,200.5 L569.7,200.4 L570.0,200.4 L570.4,200.4 L570.8,200.5 L571.2,200.5 L571.5,200.6 L571.9,200.6 L572.3,200.7 L572.7,200.8 L573.0,200.8 L573.4,200.8 L573.8,200.9 L574.2,200.9 L574.5,200.8 L574.9,200.8 L575.3,200.7 L575.7,200.7 L576.0,200.6 L576.4,200.5 L576.8,200.4 L577.2,200.4 L577.5,200.3 L577.9,200.3 L578.3,200.3 L578.7,200.4 L579.0,200.4 L579.4,200.4 L579.8,200.5 L580.2,200.6 L580.5,200.6 L580.9,200.7 L581.3,200.7 L581.7,200.8 L582.0,200.8 L582.4,200.8 L582.8,200.7 L583.2,200.7 L583.5,200.6 L583.9,200.5 L584.3,200.4 L584.7,200.4 L585.0,200.3 L585.4,200.3 L585.8,200.2 L586.2,200.2 L586.5,200.3 L586.9,200.3 L587.3,200.3 L587.7,200.4 L588.0,200.5 L588.4,200.5 L588.8,200.6 L589.2,200.6 L589.5,200.7 L589.9,200.7 L590.3,200.7 L590.7,200.6 L591.0,200.6 L591.4,200.5 L591.8,200.5 L592.2,200.4 L592.5,200.3 L592.9,200.2 L593.3,200.2 L593.7,200.2 L594.0,200.1 L594.4,200.2 L594.8,200.2 L595.2,200.2 L595.5,200.3 L595.9,200.4 L596.3,200.4 L596.7,200.5 L597.0,200.5 L597.4,200.6 L597.8,200.6 L598.2,200.6 L598.5,200.6 L598.9,200.5 L599.3,200.5 L599.7,200.4 L600.0,200.3 L600.4,200.2 L600.8,200.2 L601.2,200.1 L601.5,200.1 L601.9,200.1 L602.3,200.1 L602.7,200.1 L603.0,200.1 L603.4,200.2 L603.8,200.2 L604.2,200.3 L604.5,200.4 L604.9,200.4 L605.3,200.5 L605.7,200.5 L606.0,200.5 L606.4,200.5 L606.8,200.5 L607.2,200.4 L607.5,200.3 L607.9,200.3 L608.3,200.2 L608.6,200.1 L609.0,200.0 L609.4,200.0 L609.8,200.0 L610.1,200.0 L610.5,200.0 L610.9,200.0 L611.3,200.1 L611.6,200.1 L612.0,200.2 L612.4,200.3 L612.8,200.3 L613.1,200.4 L613.5,200.4 L613.9,200.4 L614.3,200.4 L614.6,200.4 L615.0,200.3 L615.4,200.3 L615.8,200.2 L616.1,200.1 L616.5,200.0 L616.9,200.0 L617.3,199.9 L617.6,199.9 L618.0,199.9 L618.4,199.9 L618.8,199.9 L619.1,199.9 L619.5,200.0 L619.9,200.1 L620.3,200.1 L620.6,200.2 L621.0,200.3 L621.4,200.3 L621.8,200.3 L622.1,200.3 L622.5,200.3 L622.9,200.2 L623.3,200.2 L623.6,200.1 L624.0,200.0 L624.4,200.0 L624.8,199.9 L625.1,199.8 L625.5,199.8 L625.9,199.8 L626.3,199.8 L626.6,199.8 L627.0,199.8 L627.4,199.9 L627.8,200.0 L628.1,200.0 L628.5,200.1 L628.9,200.1 L629.3,200.2 L629.6,200.2 L630.0,200.2 L630.4,200.2 L630.8,200.2 L631.1,200.1 L631.5,200.0 L631.9,200.0 L632.3,199.9 L632.6,199.8 L633.0,199.8 L633.4,199.7 L633.8,199.7 L634.1,199.7 L634.5,199.7 L634.9,199.7 L635.3,199.8 L635.6,199.8 L636.0,199.9 L636.4,200.0 L636.8,200.0 L637.1,200.1 L637.5,200.1 L637.9,200.1 L638.3,200.1 L638.6,200.1 L639.0,200.0 L639.4,200.0 L639.8,199.9 L640.1,199.8 L640.5,199.8 L640.9,199.7 L641.3,199.6 L641.6,199.6 L642.0,199.6 L642.4,199.6 L642.8,199.6 L643.1,199.7 L643.5,199.7 L643.9,199.8 L644.3,199.9 L644.6,199.9 L645.0,200.0 L645.4,200.0 L645.8,200.0 L646.1,200.0 L646.5,200.0 L646.9,200.0 L647.3,199.9 L647.6,199.8 L648.0,199.8 L648.4,199.7 L648.8,199.6 L649.1,199.5 L649.5,199.5 L649.9,199.5 L650.3,199.5 L650.6,199.5 L651.0,199.5 L651.4,199.6 L651.8,199.7 L652.1,199.7 L652.5,199.8" fill="none" stroke="#2828f5" stroke-width="1.5" stroke-linejoin="round"/>
<path d="M428.0,240.0 L428.4,237.5 L428.7,235.0 L429.1,232.6 L429.5,230.3 L429.9,228.0 L430.2,225.7 L430.6,223.5 L431.0,221.4 L431.4,219.3 L431.7,217.3 L432.1,215.4 L432.5,213.5 L432.9,211.7 L433.2,209.9 L433.6,208.2 L434.0,206.5 L434.4,204.9 L434.7,203.3 L435.1,201.7 L435.5,200.1 L435.9,198.5 L436.2,197.0 L436.6,195.4 L437.0,193.9 L437.4,192.4 L437.7,191.0 L438.1,189.5 L438.5,188.1 L438.9,186.6 L439.2,185.2 L439.6,183.8 L440.0,182.3 L440.4,180.9 L440.7,179.5 L441.1,178.2 L441.5,176.9 L441.9,175.7 L442.2,174.6 L442.6,173.5 L443.0,172.5 L443.4,171.5 L443.7,170.5 L444.1,169.6 L444.5,168.6 L444.9,167.8 L445.2,166.9 L445.6,166.0 L446.0,165.1 L446.4,164.3 L446.7,163.5 L447.1,162.7 L447.5,161.9 L447.9,161.2 L448.2,160.5 L448.6,159.8 L449.0,159.2 L449.4,158.6 L449.7,158.0 L450.1,157.5 L450.5,157.0 L450.9,156.5 L451.2,155.9 L451.6,155.4 L452.0,155.0 L452.4,154.4 L452.7,153.9 L453.1,153.5 L453.5,153.0 L453.9,152.5 L454.2,152.1 L454.6,151.7 L455.0,151.3 L455.4,151.0 L455.7,150.7 L456.1,150.4 L456.5,150.1 L456.9,149.8 L457.2,149.6 L457.6,149.3 L458.0,149.1 L458.4,148.9 L458.7,148.7 L459.1,148.5 L459.5,148.4 L459.9,148.2 L460.2,148.1 L460.6,147.9 L461.0,147.8 L461.4,147.7 L461.7,147.7 L462.1,147.6 L462.5,147.6 L462.9,147.5 L463.2,147.5 L463.6,147.5 L464.0,147.4 L464.4,147.4 L464.7,147.4 L465.1,147.3 L465.5,147.3 L465.9,147.2 L466.2,147.2 L466.6,147.1 L467.0,147.0 L467.4,147.0 L467.7,146.9 L468.1,146.9 L468.5,146.9 L468.9,146.9 L469.2,146.9 L469.6,147.0 L470.0,147.0 L470.4,147.1 L470.7,147.2 L471.1,147.2 L471.5,147.3 L471.9,147.3 L472.2,147.3 L472.6,147.2 L473.0,147.2 L473.3,147.1 L473.7,147.0 L474.1,146.9 L474.5,146.8 L474.8,146.7 L475.2,146.7 L475.6,146.6 L476.0,146.6 L476.3,146.6 L476.7,146.6 L477.1,146.7 L477.5,146.8 L477.8,146.8 L478.2,146.9 L478.6,147.0 L479.0,147.1 L479.3,147.1 L479.7,147.2 L480.1,147.2 L480.5,147.1 L480.8,147.1 L481.2,147.0 L481.6,146.9 L482.0,146.8 L482.3,146.7 L482.7,146.7 L483.1,146.6 L483.5,146.5 L483.8,146.5 L484.2,146.5 L484.6,146.5 L485.0,146.6 L485.3,146.6 L485.7,146.7 L486.1,146.8 L486.5,146.9 L486.8,147.0 L487.2,147.0 L487.6,147.1 L488.0,147.1 L488.3,147.1 L488.7,147.0 L489.1,147.0 L489.5,146.9 L489.8,146.8 L490.2,146.7 L490.6,146.6 L491.0,146.5 L491.3,146.5 L491.7,146.4 L492.1,146.4 L492.5,146.4 L492.8,146.5 L493.2,146.5 L493.6,146.6 L494.0,146.7 L494.3,146.8 L494.7,146.9 L495.1,146.9 L495.5,147.0 L495.8,147.0 L496.2,147.0 L496.6,147.0 L497.0,146.9 L497.3,146.8 L497.7,146.8 L498.1,146.7 L498.5,146.6 L498.8,146.5 L499.2,146.4 L499.6,146.4 L500.0,146.4 L500.3,146.4 L500.7,146.4 L501.1,146.5 L501.5,146.5 L501.8,146.6 L502.2,146.7 L502.6,146.8 L503.0,146.9 L503.3,146.9 L503.7,146.9 L504.1,146.9 L504.5,146.9 L504.8,146.9 L505.2,146.8 L505.6,146.7 L506.0,146.6 L506.3,146.6 L506.7,146.5 L507.1,146.4 L507.5,146.4 L507.8,146.3 L508.2,146.3 L508.6,146.3 L509.0,146.4 L509.3,146.5 L509.7,146.5 L510.1,146.6 L510.5,146.7 L510.8,146.8 L511.2,146.8 L511.6,146.9 L512.0,146.9 L512.3,146.9 L512.7,146.8 L513.1,146.8 L513.5,146.7 L513.8,146.6 L514.2,146.5 L514.6,146.4 L515.0,146.4 L515.3,146.3 L515.7,146.3 L516.1,146.3 L516.5,146.3 L516.8,146.3 L517.2,146.4 L517.6,146.5 L517.9,146.5 L518.3,146.6 L518.7,146.7 L519.1,146.8 L519.4,146.8 L519.8,146.8 L520.2,146.8 L520.6,146.8 L520.9,146.8 L521.3,146.7 L521.7,146.6 L522.1,146.5 L522.4,146.4 L522.8,146.4 L523.2,146.3 L523.6,146.2 L523.9,146.2 L524.3,146.2 L524.7,146.3 L525.1,146.3 L525.4,146.4 L525.8,146.5 L526.2,146.6 L526.6,146.6 L526.9,146.7 L527.3,146.8 L527.7,146.8 L528.1,146.8 L528.4,146.8 L528.8,146.7 L529.2,146.7 L529.6,146.6 L529.9,146.5 L530.3,146.4 L530.7,146.3 L531.1,146.3 L531.4,146.2 L531.8,146.2 L532.2,146.2 L532.6,146.2 L532.9,146.3 L533.3,146.3 L533.7,146.4 L534.1,146.5 L534.4,146.6 L534.8,146.7 L535.2,146.7 L535.6,146.8 L535.9,146.8 L536.3,146.8 L536.7,146.7 L537.1,146.7 L537.4,146.6 L537.8,146.5 L538.2,146.4 L538.6,146.3 L538.9,146.3 L539.3,146.2 L539.7,146.2 L540.1,146.2 L540.4,146.2 L540.8,146.2 L541.2,146.3 L541.6,146.3 L541.9,146.4 L542.3,146.5 L542.7,146.6 L543.1,146.7 L543.4,146.7 L543.8,146.7 L544.2,146.7 L544.6,146.7 L544.9,146.7 L545.3,146.6 L545.7,146.5 L546.1,146.4 L546.4,146.3 L546.8,146.2 L547.2,146.2 L547.6,146.1 L547.9,146.1 L548.3,146.1 L548.7,146.1 L549.1,146.2 L549.4,146.3 L549.8,146.4 L550.2,146.4 L550.6,146.5 L550.9,146.6 L551.3,146.6 L551.7,146.7 L552.1,146.7 L552.4,146.7 L552.8,146.6 L553.2,146.6 L553.6,146.5 L553.9,146.4 L554.3,146.3 L554.7,146.2 L555.1,146.1 L555.4,146.1 L555.8,146.1 L556.2,146.1 L556.6,146.1 L556.9,146.1 L557.3,146.2 L557.7,146.3 L558.1,146.4 L558.4,146.4 L558.8,146.5 L559.2,146.6 L559.6,146.6 L559.9,146.6 L560.3,146.6 L560.7,146.6 L561.1,146.5 L561.4,146.5 L561.8,146.4 L562.2,146.3 L562.6,146.2 L562.9,146.1 L563.3,146.1 L563.7,146.0 L564.0,146.0 L564.4,146.0 L564.8,146.0 L565.2,146.1 L565.5,146.2 L565.9,146.3 L566.3,146.3 L566.7,146.4 L567.0,146.5 L567.4,146.5 L567.8,146.6 L568.2,146.6 L568.5,146.5 L568.9,146.5 L569.3,146.4 L569.7,146.3 L570.0,146.2 L570.4,146.1 L570.8,146.0 L571.2,146.0 L571.5,145.9 L571.9,145.9 L572.3,145.9 L572.7,145.9 L573.0,146.0 L573.4,146.1 L573.8,146.1 L574.2,146.2 L574.5,146.3 L574.9,146.4 L575.3,146.4 L575.7,146.4 L576.0,146.4 L576.4,146.4 L576.8,146.4 L577.2,146.3 L577.5,146.2 L577.9,146.1 L578.3,146.0 L578.7,146.0 L579.0,145.9 L579.4,145.8 L579.8,145.8 L580.2,145.8 L580.5,145.8 L580.9,145.8 L581.3,145.9 L581.7,146.0 L582.0,146.0 L582.4,146.1 L582.8,146.2 L583.2,146.3 L583.5,146.3 L583.9,146.3 L584.3,146.3 L584.7,146.2 L585.0,146.2 L585.4,146.1 L585.8,146.0 L586.2,145.9 L586.5,145.8 L586.9,145.7 L587.3,145.7 L587.7,145.6 L588.0,145.6 L588.4,145.6 L588.8,145.7 L589.2,145.7 L589.5,145.8 L589.9,145.9 L590.3,145.9 L590.7,146.0 L591.0,146.1 L591.4,146.1 L591.8,146.1 L592.2,146.1 L592.5,146.1 L592.9,146.0 L593.3,146.0 L593.7,145.9 L594.0,145.8 L594.4,145.7 L594.8,145.6 L595.2,145.5 L595.5,145.5 L595.9,145.4 L596.3,145.4 L596.7,145.5 L597.0,145.5 L597.4,145.6 L597.8,145.7 L598.2,145.7 L598.5,145.8 L598.9,145.9 L599.3,145.9 L599.7,146.0 L600.0,146.0 L600.4,145.9 L600.8,145.9 L601.2,145.8 L601.5,145.7 L601.9,145.6 L602.3,145.5 L602.7,145.5 L603.0,145.4 L603.4,145.3 L603.8,145.3 L604.2,145.3 L604.5,145.3 L604.9,145.3 L605.3,145.4 L605.7,145.5 L606.0,145.5 L606.4,145.6 L606.8,145.7 L607.2,145.7 L607.5,145.8 L607.9,145.8 L608.3,145.8 L608.6,145.7 L609.0,145.7 L609.4,145.6 L609.8,145.5 L610.1,145.4 L610.5,145.3 L610.9,145.2 L611.3,145.2 L611.6,145.1 L612.0,145.1 L612.4,145.1 L612.8,145.1 L613.1,145.2 L613.5,145.3 L613.9,145.3 L614.3,145.4 L614.6,145.5 L615.0,145.6 L615.4,145.6 L615.8,145.6 L616.1,145.6 L616.5,145.6 L616.9,145.5 L617.3,145.5 L617.6,145.4 L618.0,145.3 L618.4,145.2 L618.8,145.1 L619.1,145.0 L619.5,145.0 L619.9,144.9 L620.3,144.9 L620.6,145.0 L621.0,145.0 L621.4,145.1 L621.8,145.1 L622.1,145.2 L622.5,145.3 L622.9,145.4 L623.3,145.4 L623.6,145.4 L624.0,145.4 L624.4,145.4 L624.8,145.4 L625.1,145.3 L625.5,145.2 L625.9,145.1 L626.3,145.0 L626.6,144.9 L627.0,144.9 L627.4,144.8 L627.8,144.8 L628.1,144.8 L628.5,144.8 L628.9,144.8 L629.3,144.9 L629.6,144.9 L630.0,145.0 L630.4,145.1 L630.8,145.2 L631.1,145.2 L631.5,145.3 L631.9,145.3 L632.3,145.3 L632.6,145.2 L633.0,145.2 L633.4,145.1 L633.8,145.0 L634.1,144.9 L634.5,144.8 L634.9,144.7 L635.3,144.6 L635.6,144.6 L636.0,144.6 L636.4,144.6 L636.8,144.6 L637.1,144.7 L637.5,144.7 L637.9,144.8 L638.3,144.9 L638.6,145.0 L639.0,145.0 L639.4,145.1 L639.8,145.1 L640.1,145.1 L640.5,145.1 L640.9,145.0 L641.3,144.9 L641.6,144.8 L642.0,144.7 L642.4,144.6 L642.8,144.6 L643.1,144.5 L643.5,144.4 L643.9,144.4 L644.3,144.4 L644.6,144.4 L645.0,144.5 L645.4,144.5 L645.8,144.6 L646.1,144.7 L646.5,144.8 L646.9,144.8 L647.3,144.9 L647.6,144.9 L648.0,144.9 L648.4,144.9 L648.8,144.8 L649.1,144.8 L649.5,144.7 L649.9,144.6 L650.3,144.5 L650.6,144.4 L651.0,144.3 L651.4,144.3 L651.8,144.2 L652.1,144.2 L652.5,144.2" fill="none" stroke="#1c8a8a" stroke-width="1.5" stroke-linejoin="round"/>
<path d="M428.0,240.0 L428.4,236.3 L428.8,232.6 L429.1,229.1 L429.5,225.6 L429.9,222.2 L430.3,218.9 L430.6,215.8 L431.0,212.7 L431.4,209.7 L431.8,206.8 L432.1,204.1 L432.5,201.4 L432.9,198.8 L433.3,196.4 L433.6,194.0 L434.0,191.8 L434.4,189.8 L434.8,187.9 L435.1,186.1 L435.5,184.5 L435.9,182.8 L436.3,181.1 L436.6,179.4 L437.0,177.6 L437.4,175.6 L437.8,173.5 L438.1,171.2 L438.5,168.8 L438.9,166.3 L439.3,163.7 L439.6,161.1 L440.0,158.5 L440.4,155.9 L440.8,153.4 L441.1,151.0 L441.5,148.7 L441.9,146.5 L442.3,144.2 L442.6,142.0 L443.0,139.8 L443.4,137.6 L443.8,135.5 L444.1,133.5 L444.5,131.5 L444.9,129.6 L445.3,127.8 L445.6,126.0 L446.0,124.3 L446.4,122.6 L446.8,120.9 L447.1,119.3 L447.5,117.8 L447.9,116.3 L448.3,114.8 L448.6,113.4 L449.0,112.1 L449.4,110.8 L449.8,109.6 L450.1,108.5 L450.5,107.4 L450.9,106.3 L451.3,105.3 L451.6,104.2 L452.0,103.3 L452.4,102.3 L452.8,101.4 L453.1,100.4 L453.5,99.5 L453.9,98.6 L454.3,97.7 L454.6,96.8 L455.0,95.9 L455.4,94.9 L455.8,94.0 L456.1,93.0 L456.5,92.0 L456.9,91.0 L457.3,90.0 L457.6,89.1 L458.0,88.1 L458.4,87.2 L458.8,86.2 L459.1,85.3 L459.5,84.5 L459.9,83.6 L460.3,82.9 L460.7,82.1 L461.0,81.4 L461.4,80.7 L461.8,80.0 L462.2,79.3 L462.5,78.6 L462.9,78.0 L463.3,77.4 L463.7,76.8 L464.0,76.2 L464.4,75.6 L464.8,75.1 L465.2,74.6 L465.5,74.1 L465.9,73.7 L466.3,73.2 L466.7,72.8 L467.0,72.4 L467.4,72.0 L467.8,71.6 L468.2,71.3 L468.5,70.9 L468.9,70.5 L469.3,70.2 L469.7,69.9 L470.0,69.5 L470.4,69.2 L470.8,68.8 L471.2,68.5 L471.5,68.1 L471.9,67.7 L472.3,67.3 L472.7,67.0 L473.0,66.8 L473.4,66.7 L473.8,66.7 L474.2,66.7 L474.5,66.7 L474.9,66.8 L475.3,66.8 L475.7,66.8 L476.0,66.9 L476.4,66.9 L476.8,66.9 L477.2,66.8 L477.5,66.7 L477.9,66.6 L478.3,66.4 L478.7,66.3 L479.0,66.1 L479.4,66.0 L479.8,65.8 L480.2,65.8 L480.5,65.7 L480.9,65.7 L481.3,65.7 L481.7,65.6 L482.0,65.6 L482.4,65.6 L482.8,65.5 L483.2,65.5 L483.5,65.5 L483.9,65.4 L484.3,65.4 L484.7,65.4 L485.0,65.4 L485.4,65.4 L485.8,65.5 L486.2,65.6 L486.5,65.7 L486.9,65.8 L487.3,66.0 L487.7,66.1 L488.0,66.2 L488.4,66.3 L488.8,66.4 L489.2,66.5 L489.5,66.5 L489.9,66.5 L490.3,66.4 L490.7,66.4 L491.0,66.2 L491.4,66.1 L491.8,65.9 L492.2,65.8 L492.6,65.6 L492.9,65.5 L493.3,65.4 L493.7,65.3 L494.1,65.2 L494.4,65.2 L494.8,65.3 L495.2,65.4 L495.6,65.4 L495.9,65.6 L496.3,65.7 L496.7,65.8 L497.1,65.8 L497.4,65.9 L497.8,65.9 L498.2,65.9 L498.6,65.9 L498.9,65.8 L499.3,65.7 L499.7,65.6 L500.1,65.5 L500.4,65.4 L500.8,65.2 L501.2,65.2 L501.6,65.1 L501.9,65.1 L502.3,65.1 L502.7,65.1 L503.1,65.2 L503.4,65.3 L503.8,65.4 L504.2,65.5 L504.6,65.6 L504.9,65.7 L505.3,65.8 L505.7,65.8 L506.1,65.8 L506.4,65.8 L506.8,65.7 L507.2,65.6 L507.6,65.5 L507.9,65.4 L508.3,65.3 L508.7,65.2 L509.1,65.1 L509.4,65.0 L509.8,65.0 L510.2,65.0 L510.6,65.0 L510.9,65.1 L511.3,65.2 L511.7,65.3 L512.1,65.4 L512.4,65.5 L512.8,65.6 L513.2,65.7 L513.6,65.7 L513.9,65.8 L514.3,65.7 L514.7,65.7 L515.1,65.6 L515.4,65.5 L515.8,65.4 L516.2,65.3 L516.6,65.2 L516.9,65.1 L517.3,65.0 L517.7,64.9 L518.1,64.9 L518.4,64.9 L518.8,65.0 L519.2,65.1 L519.6,65.2 L519.9,65.3 L520.3,65.4 L520.7,65.5 L521.1,65.6 L521.4,65.6 L521.8,65.7 L522.2,65.7 L522.6,65.6 L522.9,65.6 L523.3,65.5 L523.7,65.4 L524.1,65.2 L524.5,65.1 L524.8,65.0 L525.2,64.9 L525.6,64.9 L526.0,64.8 L526.3,64.8 L526.7,64.9 L527.1,65.0 L527.5,65.1 L527.8,65.2 L528.2,65.3 L528.6,65.4 L529.0,65.5 L529.3,65.6 L529.7,65.6 L530.1,65.6 L530.5,65.6 L530.8,65.5 L531.2,65.4 L531.6,65.3 L532.0,65.2 L532.3,65.1 L532.7,65.0 L533.1,64.9 L533.5,64.8 L533.8,64.8 L534.2,64.8 L534.6,64.8 L535.0,64.9 L535.3,65.0 L535.7,65.1 L536.1,65.2 L536.5,65.3 L536.8,65.4 L537.2,65.5 L537.6,65.5 L538.0,65.5 L538.3,65.5 L538.7,65.5 L539.1,65.4 L539.5,65.3 L539.8,65.2 L540.2,65.1 L540.6,64.9 L541.0,64.8 L541.3,64.8 L541.7,64.7 L542.1,64.7 L542.5,64.7 L542.8,64.8 L543.2,64.9 L543.6,65.0 L544.0,65.1 L544.3,65.2 L544.7,65.3 L545.1,65.4 L545.5,65.4 L545.8,65.5 L546.2,65.5 L546.6,65.4 L547.0,65.3 L547.3,65.3 L547.7,65.1 L548.1,65.0 L548.5,64.9 L548.8,64.8 L549.2,64.7 L549.6,64.7 L550.0,64.6 L550.3,64.6 L550.7,64.7 L551.1,64.8 L551.5,64.8 L551.8,65.0 L552.2,65.1 L552.6,65.2 L553.0,65.3 L553.3,65.3 L553.7,65.4 L554.1,65.4 L554.5,65.3 L554.8,65.3 L555.2,65.2 L555.6,65.1 L556.0,65.0 L556.3,64.8 L556.7,64.7 L557.1,64.6 L557.5,64.6 L557.9,64.5 L558.2,64.5 L558.6,64.6 L559.0,64.6 L559.4,64.7 L559.7,64.8 L560.1,64.9 L560.5,65.0 L560.9,65.1 L561.2,65.2 L561.6,65.3 L562.0,65.3 L562.4,65.2 L562.7,65.2 L563.1,65.1 L563.5,65.0 L563.9,64.9 L564.2,64.8 L564.6,64.6 L565.0,64.5 L565.4,64.5 L565.7,64.4 L566.1,64.4 L566.5,64.4 L566.9,64.5 L567.2,64.5 L567.6,64.6 L568.0,64.7 L568.4,64.8 L568.7,64.9 L569.1,65.0 L569.5,65.1 L569.9,65.1 L570.2,65.1 L570.6,65.0 L571.0,64.9 L571.4,64.8 L571.7,64.7 L572.1,64.6 L572.5,64.5 L572.9,64.4 L573.2,64.3 L573.6,64.2 L574.0,64.2 L574.4,64.2 L574.7,64.2 L575.1,64.3 L575.5,64.4 L575.9,64.5 L576.2,64.6 L576.6,64.7 L577.0,64.8 L577.4,64.8 L577.7,64.9 L578.1,64.8 L578.5,64.8 L578.9,64.7 L579.2,64.6 L579.6,64.5 L580.0,64.4 L580.4,64.3 L580.7,64.1 L581.1,64.0 L581.5,64.0 L581.9,63.9 L582.2,63.9 L582.6,63.9 L583.0,64.0 L583.4,64.1 L583.7,64.2 L584.1,64.3 L584.5,64.4 L584.9,64.5 L585.2,64.5 L585.6,64.6 L586.0,64.6 L586.4,64.5 L586.7,64.5 L587.1,64.4 L587.5,64.3 L587.9,64.1 L588.2,64.0 L588.6,63.9 L589.0,63.8 L589.4,63.7 L589.8,63.6 L590.1,63.6 L590.5,63.6 L590.9,63.7 L591.3,63.8 L591.6,63.8 L592.0,64.0 L592.4,64.1 L592.8,64.1 L593.1,64.2 L593.5,64.3 L593.9,64.3 L594.3,64.3 L594.6,64.2 L595.0,64.1 L595.4,64.0 L595.8,63.9 L596.1,63.8 L596.5,63.6 L596.9,63.5 L597.3,63.4 L597.6,63.4 L598.0,63.3 L598.4,63.3 L598.8,63.4 L599.1,63.4 L599.5,63.5 L599.9,63.6 L600.3,63.7 L600.6,63.8 L601.0,63.9 L601.4,64.0 L601.8,64.0 L602.1,64.0 L602.5,63.9 L602.9,63.9 L603.3,63.8 L603.6,63.6 L604.0,63.5 L604.4,63.4 L604.8,63.3 L605.1,63.2 L605.5,63.1 L605.9,63.0 L606.3,63.0 L606.6,63.1 L607.0,63.1 L607.4,63.2 L607.8,63.3 L608.1,63.4 L608.5,63.5 L608.9,63.6 L609.3,63.7 L609.6,63.7 L610.0,63.7 L610.4,63.7 L610.8,63.6 L611.1,63.5 L611.5,63.4 L611.9,63.3 L612.3,63.1 L612.6,63.0 L613.0,62.9 L613.4,62.8 L613.8,62.8 L614.1,62.8 L614.5,62.8 L614.9,62.8 L615.3,62.9 L615.6,63.0 L616.0,63.1 L616.4,63.2 L616.8,63.3 L617.1,63.4 L617.5,63.4 L617.9,63.4 L618.3,63.4 L618.6,63.4 L619.0,63.3 L619.4,63.2 L619.8,63.1 L620.1,62.9 L620.5,62.8 L620.9,62.7 L621.3,62.6 L621.7,62.5 L622.0,62.5 L622.4,62.5 L622.8,62.6 L623.2,62.6 L623.5,62.7 L623.9,62.8 L624.3,62.9 L624.7,63.0 L625.0,63.1 L625.4,63.2 L625.8,63.2 L626.2,63.2 L626.5,63.1 L626.9,63.1 L627.3,63.0 L627.7,62.8 L628.0,62.7 L628.4,62.6 L628.8,62.5 L629.2,62.4 L629.5,62.3 L629.9,62.3 L630.3,62.2 L630.7,62.3 L631.0,62.3 L631.4,62.4 L631.8,62.5 L632.2,62.6 L632.5,62.7 L632.9,62.8 L633.3,62.9 L633.7,62.9 L634.0,62.9 L634.4,62.9 L634.8,62.8 L635.2,62.7 L635.5,62.6 L635.9,62.5 L636.3,62.4 L636.7,62.2 L637.0,62.1 L637.4,62.0 L637.8,62.0 L638.2,62.0 L638.5,62.0 L638.9,62.1 L639.3,62.1 L639.7,62.2 L640.0,62.3 L640.4,62.4 L640.8,62.5 L641.2,62.6 L641.5,62.6 L641.9,62.7 L642.3,62.6 L642.7,62.6 L643.0,62.5 L643.4,62.4 L643.8,62.3 L644.2,62.1 L644.5,62.0 L644.9,61.9 L645.3,61.8 L645.7,61.7 L646.0,61.7 L646.4,61.7 L646.8,61.8 L647.2,61.8 L647.5,61.9 L647.9,62.0 L648.3,62.1 L648.7,62.2 L649.0,62.3 L649.4,62.4 L649.8,62.4 L650.2,62.4 L650.5,62.3 L650.9,62.3 L651.3,62.2 L651.7,62.0 L652.0,61.9 L652.4,61.8 L652.8,61.7" fill="none" stroke="#ff1cff" stroke-width="1.5" stroke-linejoin="round"/>
<rect x="289.4" y="4.4" width="66.6" height="60.2" fill="#fff" stroke="#a6a6a6" stroke-width="1"/>
<path d="M290.3,10.4 H312.4" stroke="#1c1c1c" stroke-width="1.4"/>
<text x="314.8" y="13.50" font-size="9.7" stroke="#1a1a1a" stroke-width="0.4">Vg = 2V</text>
<path d="M290.3,22.4 H312.4" stroke="#f52828" stroke-width="1.4"/>
<text x="314.8" y="25.50" font-size="9.7" stroke="#1a1a1a" stroke-width="0.4">Vg = 4V</text>
<path d="M290.3,34 H312.4" stroke="#2828f5" stroke-width="1.4"/>
<text x="314.8" y="37.10" font-size="9.7" stroke="#1a1a1a" stroke-width="0.4">Vg = 6V</text>
<path d="M290.3,45.7 H312.4" stroke="#1c8a8a" stroke-width="1.4"/>
<text x="314.8" y="48.80" font-size="9.7" stroke="#1a1a1a" stroke-width="0.4">Vg = 8V</text>
<path d="M290.3,57.5 H312.4" stroke="#ff1cff" stroke-width="1.4"/>
<text x="314.8" y="60.60" font-size="9.7" stroke="#1a1a1a" stroke-width="0.4">Vg = 10V</text>
<rect x="657.6" y="14.9" width="65.8" height="59" fill="#fff" stroke="#a6a6a6" stroke-width="1"/>
<path d="M658.6,21.3 H680.4" stroke="#1c1c1c" stroke-width="1.4"/>
<text x="682.9" y="24.30" font-size="9.3" stroke="#1a1a1a" stroke-width="0.4">Vg = 2V</text>
<path d="M658.6,33.2 H680.4" stroke="#f52828" stroke-width="1.4"/>
<text x="682.9" y="36.20" font-size="9.3" stroke="#1a1a1a" stroke-width="0.4">Vg = 4V</text>
<path d="M658.6,45 H680.4" stroke="#2828f5" stroke-width="1.4"/>
<text x="682.9" y="48.00" font-size="9.3" stroke="#1a1a1a" stroke-width="0.4">Vg = 6V</text>
<path d="M658.6,56.8 H680.4" stroke="#1c8a8a" stroke-width="1.4"/>
<text x="682.9" y="59.80" font-size="9.3" stroke="#1a1a1a" stroke-width="0.4">Vg = 8V</text>
<path d="M658.6,68.5 H680.4" stroke="#ff1cff" stroke-width="1.4"/>
<text x="682.9" y="71.50" font-size="9.3" stroke="#1a1a1a" stroke-width="0.4">Vg = 10V</text>
<text transform="translate(1.3,12.9) scale(0.95,1)" font-size="16" font-weight="bold" fill="#111">a)</text>
<text transform="translate(386.6,14.6) scale(0.95,1)" font-size="16.5" font-weight="bold" fill="#111">b)</text>
<text x="180.6" y="264.9" font-size="9.7" text-anchor="middle" stroke="#1a1a1a" stroke-width="0.35">Drain - Source Voltage, Vds (V)</text>
<text x="551.1" y="267.3" font-size="9.55" text-anchor="middle" stroke="#1a1a1a" stroke-width="0.35">Drain - Source Voltage, Vds (V)</text>
<text transform="translate(16.8,137.2) rotate(-90)" font-size="9.77" text-anchor="middle" stroke="#1a1a1a" stroke-width="0.35">Drain Current, Id (uA)</text>
<text transform="translate(394.4,142.4) rotate(-90)" font-size="9.62" text-anchor="middle" stroke="#1a1a1a" stroke-width="0.35">Drain Current Id (uA)</text>
</svg>
</body></html>
